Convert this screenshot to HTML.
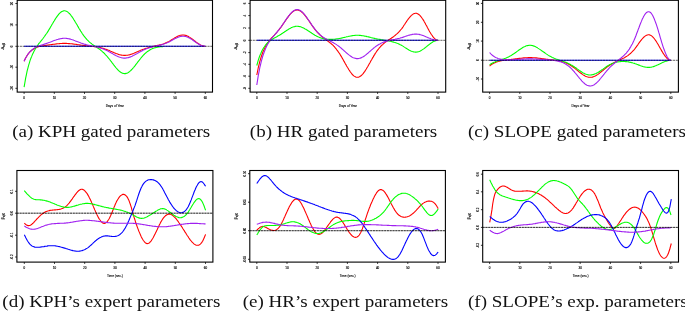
<!DOCTYPE html>
<html><head><meta charset="utf-8"><title>figure</title>
<style>html,body{margin:0;padding:0;background:#fff;}svg{display:block;}</style>
</head><body>
<svg width="685" height="311" viewBox="0 0 685 311">
<rect width="685" height="311" fill="#ffffff"/>
<path d="M24.1,61.3L24.9,59.6L25.6,58.1L26.4,56.7L27.1,55.5L27.9,54.4L28.6,53.4L29.4,52.5L30.1,51.7L30.9,51.0L31.7,50.3L32.4,49.7L33.2,49.2L33.9,48.7L34.7,48.3L35.4,47.9L36.2,47.5L36.9,47.2L37.7,47.0L38.4,46.7L39.2,46.5L40.0,46.3L40.7,46.2L41.5,46.0L42.2,45.9L43.0,45.8L43.7,45.7L44.5,45.6L45.2,45.5L46.0,45.4L46.8,45.3L47.5,45.1L48.3,45.0L49.0,44.9L49.8,44.8L50.5,44.7L51.3,44.6L52.0,44.5L52.8,44.4L53.5,44.3L54.3,44.2L55.1,44.1L55.8,44.0L56.6,43.9L57.3,43.8L58.1,43.7L58.8,43.7L59.6,43.6L60.3,43.5L61.1,43.5L61.9,43.5L62.6,43.4L63.4,43.4L64.1,43.4L64.9,43.4L65.6,43.4L66.4,43.4L67.1,43.5L67.9,43.5L68.6,43.6L69.4,43.6L70.2,43.7L70.9,43.8L71.7,43.8L72.4,43.9L73.2,44.0L73.9,44.1L74.7,44.2L75.4,44.3L76.2,44.4L77.0,44.5L77.7,44.7L78.5,44.8L79.2,44.9L80.0,45.0L80.7,45.1L81.5,45.2L82.2,45.3L83.0,45.4L83.7,45.5L84.5,45.6L85.3,45.6L86.0,45.7L86.8,45.8L87.5,45.9L88.3,46.0L89.0,46.0L89.8,46.1L90.5,46.2L91.3,46.3L92.1,46.4L92.8,46.4L93.6,46.5L94.3,46.6L95.1,46.7L95.8,46.8L96.6,46.9L97.3,47.1L98.1,47.2L98.8,47.3L99.6,47.5L100.4,47.6L101.1,47.8L101.9,48.0L102.6,48.2L103.4,48.4L104.1,48.7L104.9,48.9L105.6,49.2L106.4,49.4L107.2,49.7L107.9,50.0L108.7,50.3L109.4,50.6L110.2,51.0L110.9,51.3L111.7,51.6L112.4,52.0L113.2,52.3L113.9,52.6L114.7,52.9L115.5,53.2L116.2,53.5L117.0,53.8L117.7,54.1L118.5,54.4L119.2,54.6L120.0,54.8L120.7,55.0L121.5,55.1L122.2,55.2L123.0,55.3L123.8,55.4L124.5,55.4L125.3,55.4L126.0,55.3L126.8,55.3L127.5,55.2L128.3,55.0L129.0,54.9L129.8,54.7L130.6,54.4L131.3,54.2L132.1,53.9L132.8,53.7L133.6,53.4L134.3,53.1L135.1,52.7L135.8,52.4L136.6,52.1L137.3,51.7L138.1,51.4L138.9,51.1L139.6,50.7L140.4,50.4L141.1,50.1L141.9,49.8L142.6,49.5L143.4,49.2L144.1,49.0L144.9,48.7L145.7,48.4L146.4,48.2L147.2,48.0L147.9,47.8L148.7,47.5L149.4,47.4L150.2,47.2L150.9,47.0L151.7,46.8L152.4,46.6L153.2,46.4L154.0,46.3L154.7,46.1L155.5,45.9L156.2,45.8L157.0,45.6L157.7,45.4L158.5,45.3L159.2,45.1L160.0,44.9L160.8,44.7L161.5,44.5L162.3,44.2L163.0,44.0L163.8,43.7L164.5,43.4L165.3,43.1L166.0,42.8L166.8,42.5L167.5,42.1L168.3,41.8L169.1,41.4L169.8,41.0L170.6,40.5L171.3,40.0L172.1,39.5L172.8,39.1L173.6,38.6L174.3,38.1L175.1,37.7L175.9,37.3L176.6,36.8L177.4,36.5L178.1,36.1L178.9,35.8L179.6,35.6L180.4,35.3L181.1,35.2L181.9,35.1L182.7,35.0L183.4,35.0L184.2,35.1L184.9,35.2L185.7,35.4L186.4,35.6L187.2,35.9L187.9,36.2L188.7,36.6L189.4,37.1L190.2,37.6L191.0,38.1L191.7,38.6L192.5,39.2L193.2,39.8L194.0,40.4L194.7,40.9L195.5,41.5L196.2,42.1L197.0,42.7L197.8,43.2L198.5,43.7L199.3,44.2L200.0,44.7L200.8,45.1L201.5,45.4L202.3,45.7L203.0,45.9L203.8,46.1L204.5,46.2L205.3,46.3" fill="none" stroke="#ff0000" stroke-width="1.1" stroke-linejoin="round"/>
<path d="M24.1,87.1L24.9,82.5L25.6,78.3L26.4,74.6L27.1,71.2L27.9,68.1L28.6,65.3L29.4,62.8L30.1,60.4L30.9,58.3L31.7,56.4L32.4,54.6L33.2,52.9L33.9,51.4L34.7,50.0L35.4,48.7L36.2,47.5L36.9,46.3L37.7,45.3L38.4,44.2L39.2,43.2L40.0,42.3L40.7,41.3L41.5,40.4L42.2,39.5L43.0,38.5L43.7,37.5L44.5,36.5L45.2,35.4L46.0,34.3L46.8,33.2L47.5,32.1L48.3,30.9L49.0,29.6L49.8,28.4L50.5,27.1L51.3,25.8L52.0,24.5L52.8,23.2L53.5,21.9L54.3,20.7L55.1,19.4L55.8,18.3L56.6,17.1L57.3,16.1L58.1,15.1L58.8,14.2L59.6,13.3L60.3,12.6L61.1,12.0L61.9,11.5L62.6,11.2L63.4,10.9L64.1,10.8L64.9,10.8L65.6,11.0L66.4,11.2L67.1,11.6L67.9,12.1L68.6,12.8L69.4,13.5L70.2,14.3L70.9,15.3L71.7,16.3L72.4,17.4L73.2,18.5L73.9,19.7L74.7,20.9L75.4,22.2L76.2,23.5L77.0,24.8L77.7,26.1L78.5,27.4L79.2,28.7L80.0,29.9L80.7,31.1L81.5,32.3L82.2,33.5L83.0,34.6L83.7,35.6L84.5,36.6L85.3,37.6L86.0,38.5L86.8,39.3L87.5,40.1L88.3,40.9L89.0,41.6L89.8,42.3L90.5,42.9L91.3,43.5L92.1,44.1L92.8,44.6L93.6,45.2L94.3,45.7L95.1,46.2L95.8,46.7L96.6,47.2L97.3,47.7L98.1,48.2L98.8,48.8L99.6,49.3L100.4,49.9L101.1,50.5L101.9,51.1L102.6,51.8L103.4,52.5L104.1,53.2L104.9,54.0L105.6,54.8L106.4,55.6L107.2,56.5L107.9,57.4L108.7,58.3L109.4,59.3L110.2,60.2L110.9,61.2L111.7,62.2L112.4,63.2L113.2,64.2L113.9,65.2L114.7,66.2L115.5,67.1L116.2,68.0L117.0,68.9L117.7,69.7L118.5,70.5L119.2,71.1L120.0,71.8L120.7,72.3L121.5,72.7L122.2,73.1L123.0,73.4L123.8,73.5L124.5,73.6L125.3,73.6L126.0,73.4L126.8,73.2L127.5,72.9L128.3,72.5L129.0,72.0L129.8,71.4L130.6,70.7L131.3,70.0L132.1,69.2L132.8,68.4L133.6,67.5L134.3,66.6L135.1,65.6L135.8,64.6L136.6,63.7L137.3,62.7L138.1,61.7L138.9,60.7L139.6,59.7L140.4,58.8L141.1,57.8L141.9,56.9L142.6,56.1L143.4,55.2L144.1,54.5L144.9,53.7L145.7,53.0L146.4,52.4L147.2,51.7L147.9,51.2L148.7,50.7L149.4,50.2L150.2,49.7L150.9,49.3L151.7,49.0L152.4,48.6L153.2,48.3L154.0,48.1L154.7,47.8L155.5,47.6L156.2,47.4L157.0,47.3L157.7,47.1L158.5,47.0L159.2,46.9L160.0,46.8L160.8,46.7L161.5,46.7L162.3,46.6L163.0,46.6" fill="none" stroke="#00ff00" stroke-width="1.1" stroke-linejoin="round"/>
<path d="M24.1,46.3L24.9,46.3L25.6,46.3L26.4,46.3L27.1,46.3L27.9,46.3L28.6,46.3L29.4,46.3L30.1,46.3L30.9,46.3L31.7,46.3L32.4,46.3L33.2,46.3L33.9,46.3L34.7,46.3L35.4,46.3L36.2,46.3L36.9,46.3L37.7,46.3L38.4,46.3L39.2,46.3L40.0,46.3L40.7,46.3L41.5,46.3L42.2,46.3L43.0,46.3L43.7,46.3L44.5,46.3L45.2,46.3L46.0,46.3L46.8,46.3L47.5,46.3L48.3,46.3L49.0,46.3L49.8,46.3L50.5,46.3L51.3,46.3L52.0,46.3L52.8,46.3L53.5,46.3L54.3,46.3L55.1,46.3L55.8,46.3L56.6,46.3L57.3,46.3L58.1,46.3L58.8,46.3L59.6,46.3L60.3,46.3L61.1,46.3L61.9,46.3L62.6,46.3L63.4,46.3L64.1,46.3L64.9,46.3L65.6,46.3L66.4,46.3L67.1,46.3L67.9,46.3L68.6,46.3L69.4,46.3L70.2,46.3L70.9,46.3L71.7,46.3L72.4,46.3L73.2,46.3L73.9,46.3L74.7,46.3L75.4,46.3L76.2,46.3L77.0,46.3L77.7,46.3L78.5,46.3L79.2,46.3L80.0,46.3L80.7,46.3L81.5,46.3L82.2,46.3L83.0,46.3L83.7,46.3L84.5,46.3L85.3,46.3L86.0,46.3L86.8,46.3L87.5,46.3L88.3,46.3L89.0,46.3L89.8,46.3L90.5,46.3L91.3,46.3L92.1,46.3L92.8,46.3L93.6,46.3L94.3,46.3L95.1,46.3L95.8,46.3L96.6,46.3L97.3,46.3L98.1,46.3L98.8,46.3L99.6,46.3L100.4,46.3L101.1,46.3L101.9,46.3L102.6,46.3L103.4,46.3L104.1,46.3L104.9,46.3L105.6,46.3L106.4,46.3L107.2,46.3L107.9,46.3L108.7,46.3L109.4,46.3L110.2,46.3L110.9,46.3L111.7,46.3L112.4,46.3L113.2,46.3L113.9,46.3L114.7,46.3L115.5,46.3L116.2,46.3L117.0,46.3L117.7,46.3L118.5,46.3L119.2,46.3L120.0,46.3L120.7,46.3L121.5,46.3L122.2,46.3L123.0,46.3L123.8,46.3L124.5,46.3L125.3,46.3L126.0,46.3L126.8,46.3L127.5,46.3L128.3,46.3L129.0,46.3L129.8,46.3L130.6,46.3L131.3,46.3L132.1,46.3L132.8,46.3L133.6,46.3L134.3,46.3L135.1,46.3L135.8,46.3L136.6,46.3L137.3,46.3L138.1,46.3L138.9,46.3L139.6,46.3L140.4,46.3L141.1,46.3L141.9,46.3L142.6,46.3L143.4,46.3L144.1,46.3L144.9,46.3L145.7,46.3L146.4,46.3L147.2,46.3L147.9,46.3L148.7,46.3L149.4,46.3L150.2,46.3L150.9,46.3L151.7,46.3L152.4,46.3L153.2,46.3L154.0,46.3L154.7,46.3L155.5,46.3L156.2,46.3L157.0,46.3L157.7,46.3L158.5,46.3L159.2,46.3L160.0,46.3L160.8,46.3L161.5,46.3L162.3,46.3L163.0,46.3L163.8,46.3L164.5,46.3L165.3,46.3L166.0,46.3L166.8,46.3L167.5,46.3L168.3,46.3L169.1,46.3L169.8,46.3L170.6,46.3L171.3,46.3L172.1,46.3L172.8,46.3L173.6,46.3L174.3,46.3L175.1,46.3L175.9,46.3L176.6,46.3L177.4,46.3L178.1,46.3L178.9,46.3L179.6,46.3L180.4,46.3L181.1,46.3L181.9,46.3L182.7,46.3L183.4,46.3L184.2,46.3L184.9,46.3L185.7,46.3L186.4,46.3L187.2,46.3L187.9,46.3L188.7,46.3L189.4,46.3L190.2,46.3L191.0,46.3L191.7,46.3L192.5,46.3L193.2,46.3L194.0,46.3L194.7,46.3L195.5,46.3L196.2,46.3L197.0,46.3L197.8,46.3L198.5,46.3L199.3,46.3L200.0,46.3L200.8,46.3L201.5,46.3L202.3,46.3L203.0,46.3L203.8,46.3L204.5,46.3L205.3,46.3" fill="none" stroke="#0000ff" stroke-width="1.1" stroke-linejoin="round"/>
<path d="M24.1,61.3L24.9,59.6L25.6,58.0L26.4,56.7L27.1,55.5L27.9,54.3L28.6,53.3L29.4,52.4L30.1,51.6L30.9,50.8L31.7,50.1L32.4,49.5L33.2,48.9L33.9,48.4L34.7,47.9L35.4,47.5L36.2,47.1L36.9,46.8L37.7,46.4L38.4,46.1L39.2,45.8L40.0,45.6L40.7,45.3L41.5,45.1L42.2,44.8L43.0,44.6L43.7,44.4L44.5,44.1L45.2,43.9L46.0,43.6L46.8,43.4L47.5,43.1L48.3,42.8L49.0,42.5L49.8,42.3L50.5,42.0L51.3,41.7L52.0,41.4L52.8,41.1L53.5,40.8L54.3,40.5L55.1,40.2L55.8,40.0L56.6,39.7L57.3,39.5L58.1,39.3L58.8,39.1L59.6,38.9L60.3,38.7L61.1,38.6L61.9,38.5L62.6,38.4L63.4,38.3L64.1,38.3L64.9,38.3L65.6,38.3L66.4,38.4L67.1,38.5L67.9,38.6L68.6,38.7L69.4,38.9L70.2,39.1L70.9,39.3L71.7,39.5L72.4,39.8L73.2,40.0L73.9,40.3L74.7,40.6L75.4,40.9L76.2,41.2L77.0,41.5L77.7,41.8L78.5,42.0L79.2,42.3L80.0,42.6L80.7,42.9L81.5,43.2L82.2,43.4L83.0,43.7L83.7,43.9L84.5,44.2L85.3,44.4L86.0,44.6L86.8,44.8L87.5,45.0L88.3,45.2L89.0,45.3L89.8,45.5L90.5,45.7L91.3,45.8L92.1,46.0L92.8,46.2L93.6,46.3L94.3,46.5L95.1,46.6L95.8,46.8L96.6,47.0L97.3,47.1L98.1,47.3L98.8,47.5L99.6,47.7L100.4,48.0L101.1,48.2L101.9,48.5L102.6,48.7L103.4,49.0L104.1,49.3L104.9,49.7L105.6,50.0L106.4,50.3L107.2,50.7L107.9,51.1L108.7,51.5L109.4,51.9L110.2,52.3L110.9,52.8L111.7,53.2L112.4,53.6L113.2,54.1L113.9,54.5L114.7,54.9L115.5,55.3L116.2,55.7L117.0,56.1L117.7,56.4L118.5,56.7L119.2,57.0L120.0,57.3L120.7,57.5L121.5,57.7L122.2,57.9L123.0,58.0L123.8,58.1L124.5,58.1L125.3,58.1L126.0,58.0L126.8,57.9L127.5,57.8L128.3,57.6L129.0,57.4L129.8,57.1L130.6,56.9L131.3,56.6L132.1,56.2L132.8,55.8L133.6,55.5L134.3,55.1L135.1,54.6L135.8,54.2L136.6,53.8L137.3,53.4L138.1,52.9L138.9,52.5L139.6,52.1L140.4,51.7L141.1,51.3L141.9,50.9L142.6,50.5L143.4,50.1L144.1,49.8L144.9,49.4L145.7,49.1L146.4,48.8L147.2,48.5L147.9,48.3L148.7,48.0L149.4,47.8L150.2,47.5L150.9,47.3L151.7,47.1L152.4,46.9L153.2,46.7L154.0,46.5L154.7,46.3L155.5,46.1L156.2,46.0L157.0,45.8L157.7,45.6L158.5,45.5L159.2,45.3L160.0,45.1L160.8,44.9L161.5,44.7L162.3,44.5L163.0,44.3L163.8,44.0L164.5,43.8L165.3,43.5L166.0,43.2L166.8,42.9L167.5,42.6L168.3,42.3L169.1,41.9L169.8,41.5L170.6,41.1L171.3,40.7L172.1,40.3L172.8,39.8L173.6,39.4L174.3,39.0L175.1,38.6L175.9,38.2L176.6,37.9L177.4,37.5L178.1,37.2L178.9,36.9L179.6,36.7L180.4,36.5L181.1,36.4L181.9,36.3L182.7,36.2L183.4,36.2L184.2,36.3L184.9,36.4L185.7,36.5L186.4,36.7L187.2,37.0L187.9,37.3L188.7,37.7L189.4,38.1L190.2,38.5L191.0,38.9L191.7,39.4L192.5,39.9L193.2,40.5L194.0,41.0L194.7,41.5L195.5,42.0L196.2,42.6L197.0,43.1L197.8,43.6L198.5,44.0L199.3,44.4L200.0,44.8L200.8,45.2L201.5,45.5L202.3,45.8L203.0,46.0L203.8,46.1L204.5,46.2L205.3,46.3" fill="none" stroke="#a020f0" stroke-width="1.1" stroke-linejoin="round"/>
<line x1="17.2" y1="46.3" x2="212.5" y2="46.3" stroke="#000" stroke-opacity="0.15" stroke-width="0.9"/>
<line x1="17.2" y1="46.3" x2="212.5" y2="46.3" stroke="#000" stroke-opacity="0.6" stroke-width="0.9" stroke-dasharray="1.9,0.9"/>
<rect x="17.2" y="0.3" width="195.30" height="91.80" fill="none" stroke="#000" stroke-width="1.1"/>
<line x1="24.10" y1="92.1" x2="24.10" y2="93.89999999999999" stroke="#000" stroke-width="0.8"/>
<text x="24.10" y="99.00" font-size="3" text-anchor="middle" stroke="#000" stroke-width="0.12" font-family="Liberation Sans, Arial, sans-serif">0</text>
<line x1="54.30" y1="92.1" x2="54.30" y2="93.89999999999999" stroke="#000" stroke-width="0.8"/>
<text x="54.30" y="99.00" font-size="3" text-anchor="middle" stroke="#000" stroke-width="0.12" font-family="Liberation Sans, Arial, sans-serif">10</text>
<line x1="84.50" y1="92.1" x2="84.50" y2="93.89999999999999" stroke="#000" stroke-width="0.8"/>
<text x="84.50" y="99.00" font-size="3" text-anchor="middle" stroke="#000" stroke-width="0.12" font-family="Liberation Sans, Arial, sans-serif">20</text>
<line x1="114.70" y1="92.1" x2="114.70" y2="93.89999999999999" stroke="#000" stroke-width="0.8"/>
<text x="114.70" y="99.00" font-size="3" text-anchor="middle" stroke="#000" stroke-width="0.12" font-family="Liberation Sans, Arial, sans-serif">30</text>
<line x1="144.90" y1="92.1" x2="144.90" y2="93.89999999999999" stroke="#000" stroke-width="0.8"/>
<text x="144.90" y="99.00" font-size="3" text-anchor="middle" stroke="#000" stroke-width="0.12" font-family="Liberation Sans, Arial, sans-serif">40</text>
<line x1="175.10" y1="92.1" x2="175.10" y2="93.89999999999999" stroke="#000" stroke-width="0.8"/>
<text x="175.10" y="99.00" font-size="3" text-anchor="middle" stroke="#000" stroke-width="0.12" font-family="Liberation Sans, Arial, sans-serif">50</text>
<line x1="205.30" y1="92.1" x2="205.30" y2="93.89999999999999" stroke="#000" stroke-width="0.8"/>
<text x="205.30" y="99.00" font-size="3" text-anchor="middle" stroke="#000" stroke-width="0.12" font-family="Liberation Sans, Arial, sans-serif">60</text>
<line x1="15.399999999999999" y1="3.5" x2="17.2" y2="3.5" stroke="#000" stroke-width="0.8"/>
<text transform="translate(13.00,3.5) rotate(-90)" font-size="3" text-anchor="middle" stroke="#000" stroke-width="0.12" font-family="Liberation Sans, Arial, sans-serif">20</text>
<line x1="15.399999999999999" y1="24.9" x2="17.2" y2="24.9" stroke="#000" stroke-width="0.8"/>
<text transform="translate(13.00,24.9) rotate(-90)" font-size="3" text-anchor="middle" stroke="#000" stroke-width="0.12" font-family="Liberation Sans, Arial, sans-serif">10</text>
<line x1="15.399999999999999" y1="46.3" x2="17.2" y2="46.3" stroke="#000" stroke-width="0.8"/>
<text transform="translate(13.00,46.3) rotate(-90)" font-size="3" text-anchor="middle" stroke="#000" stroke-width="0.12" font-family="Liberation Sans, Arial, sans-serif">0</text>
<line x1="15.399999999999999" y1="67.2" x2="17.2" y2="67.2" stroke="#000" stroke-width="0.8"/>
<text transform="translate(13.00,67.2) rotate(-90)" font-size="3" text-anchor="middle" stroke="#000" stroke-width="0.12" font-family="Liberation Sans, Arial, sans-serif">-10</text>
<line x1="15.399999999999999" y1="88.3" x2="17.2" y2="88.3" stroke="#000" stroke-width="0.8"/>
<text transform="translate(13.00,88.3) rotate(-90)" font-size="3" text-anchor="middle" stroke="#000" stroke-width="0.12" font-family="Liberation Sans, Arial, sans-serif">-20</text>
<text x="114.85" y="106.50" font-size="3.2" text-anchor="middle" stroke="#000" stroke-width="0.1" font-family="Liberation Sans, Arial, sans-serif">Days of Year</text>
<text transform="translate(4.20,46.20) rotate(-90)" font-size="4.2" text-anchor="middle" stroke="#000" stroke-width="0.12" font-family="Liberation Sans, Arial, sans-serif">&#916;<tspan font-size='3' dy='0.8'>x|&#952;</tspan></text>
<path d="M256.8,75.0L257.6,71.1L258.3,67.5L259.1,64.3L259.8,61.5L260.6,58.9L261.3,56.5L262.1,54.3L262.8,52.3L263.6,50.5L264.4,48.9L265.1,47.3L265.9,45.9L266.6,44.6L267.4,43.4L268.1,42.3L268.9,41.3L269.6,40.3L270.4,39.4L271.1,38.5L271.9,37.7L272.7,36.9L273.4,36.1L274.2,35.3L274.9,34.5L275.7,33.6L276.4,32.8L277.2,31.9L277.9,31.0L278.7,30.1L279.4,29.1L280.2,28.1L281.0,27.1L281.7,26.1L282.5,25.0L283.2,23.9L284.0,22.8L284.7,21.7L285.5,20.6L286.2,19.5L287.0,18.4L287.8,17.4L288.5,16.4L289.3,15.4L290.0,14.5L290.8,13.6L291.5,12.9L292.3,12.2L293.0,11.6L293.8,11.0L294.6,10.6L295.3,10.3L296.1,10.1L296.8,10.0L297.6,10.0L298.3,10.1L299.1,10.4L299.8,10.7L300.6,11.1L301.3,11.7L302.1,12.3L302.9,13.0L303.6,13.8L304.4,14.7L305.1,15.6L305.9,16.6L306.6,17.6L307.4,18.7L308.1,19.7L308.9,20.8L309.7,21.9L310.4,23.1L311.2,24.2L311.9,25.3L312.7,26.3L313.4,27.4L314.2,28.4L314.9,29.4L315.7,30.3L316.4,31.3L317.2,32.1L318.0,33.0L318.7,33.7L319.5,34.5L320.2,35.2L321.0,35.9L321.7,36.5L322.5,37.2L323.2,37.8L324.0,38.3L324.8,38.9L325.5,39.4L326.3,40.0L327.0,40.5L327.8,41.1L328.5,41.6L329.3,42.2L330.0,42.8L330.8,43.4L331.5,44.0L332.3,44.7L333.1,45.4L333.8,46.2L334.6,47.0L335.3,47.9L336.1,48.8L336.8,49.8L337.6,50.8L338.3,51.9L339.1,53.0L339.9,54.1L340.6,55.4L341.4,56.6L342.1,57.9L342.9,59.2L343.6,60.6L344.4,61.9L345.1,63.3L345.9,64.6L346.6,66.0L347.4,67.3L348.2,68.5L348.9,69.8L349.7,70.9L350.4,72.0L351.2,73.0L351.9,74.0L352.7,74.8L353.4,75.5L354.2,76.1L355.0,76.6L355.7,77.0L356.5,77.2L357.2,77.3L358.0,77.3L358.7,77.1L359.5,76.8L360.2,76.3L361.0,75.8L361.7,75.1L362.5,74.3L363.3,73.4L364.0,72.4L364.8,71.4L365.5,70.2L366.3,69.0L367.0,67.8L367.8,66.5L368.5,65.2L369.3,63.8L370.1,62.4L370.8,61.1L371.6,59.7L372.3,58.4L373.1,57.1L373.8,55.9L374.6,54.6L375.3,53.4L376.1,52.3L376.8,51.2L377.6,50.2L378.4,49.2L379.1,48.2L379.9,47.3L380.6,46.5L381.4,45.7L382.1,45.0L382.9,44.3L383.6,43.6L384.4,43.0L385.1,42.4L385.9,41.8L386.7,41.2L387.4,40.7L388.2,40.2L388.9,39.7L389.7,39.2L390.4,38.7L391.2,38.2L391.9,37.7L392.7,37.2L393.5,36.7L394.2,36.1L395.0,35.5L395.7,34.9L396.5,34.2L397.2,33.6L398.0,32.8L398.7,32.1L399.5,31.3L400.2,30.4L401.0,29.5L401.8,28.6L402.5,27.6L403.3,26.5L404.0,25.3L404.8,24.2L405.5,23.0L406.3,21.9L407.0,20.8L407.8,19.7L408.6,18.7L409.3,17.7L410.1,16.8L410.8,16.0L411.6,15.3L412.3,14.6L413.1,14.1L413.8,13.7L414.6,13.5L415.4,13.3L416.1,13.3L416.9,13.4L417.6,13.7L418.4,14.2L419.1,14.7L419.9,15.4L420.6,16.3L421.4,17.2L422.1,18.3L422.9,19.4L423.7,20.6L424.4,21.9L425.2,23.3L425.9,24.7L426.7,26.1L427.4,27.5L428.2,28.9L428.9,30.3L429.7,31.7L430.5,33.0L431.2,34.2L432.0,35.3L432.7,36.4L433.5,37.3L434.2,38.2L435.0,38.9L435.7,39.4L436.5,39.9L437.2,40.2L438.0,40.3" fill="none" stroke="#ff0000" stroke-width="1.1" stroke-linejoin="round"/>
<path d="M256.8,65.5L257.6,62.7L258.3,60.1L259.1,57.8L259.8,55.7L260.6,53.9L261.3,52.2L262.1,50.6L262.8,49.2L263.6,47.9L264.4,46.8L265.1,45.7L265.9,44.7L266.6,43.8L267.4,43.0L268.1,42.3L268.9,41.6L269.6,41.0L270.4,40.5L271.1,39.9L271.9,39.5L272.7,39.0L273.4,38.6L274.2,38.1L274.9,37.7L275.7,37.3L276.4,36.9L277.2,36.5L277.9,36.0L278.7,35.6L279.4,35.2L280.2,34.7L281.0,34.2L281.7,33.7L282.5,33.2L283.2,32.7L284.0,32.2L284.7,31.7L285.5,31.2L286.2,30.7L287.0,30.2L287.8,29.7L288.5,29.2L289.3,28.8L290.0,28.4L290.8,28.0L291.5,27.6L292.3,27.3L293.0,27.0L293.8,26.8L294.6,26.6L295.3,26.4L296.1,26.3L296.8,26.3L297.6,26.3L298.3,26.4L299.1,26.5L299.8,26.6L300.6,26.8L301.3,27.1L302.1,27.4L302.9,27.7L303.6,28.1L304.4,28.5L305.1,28.9L305.9,29.3L306.6,29.8L307.4,30.3L308.1,30.8L308.9,31.3L309.7,31.8L310.4,32.3L311.2,32.8L311.9,33.3L312.7,33.8L313.4,34.3L314.2,34.7L314.9,35.2L315.7,35.6L316.4,36.0L317.2,36.4L318.0,36.8L318.7,37.1L319.5,37.4L320.2,37.7L321.0,37.9L321.7,38.2L322.5,38.4L323.2,38.6L324.0,38.8L324.8,38.9L325.5,39.0L326.3,39.1L327.0,39.2L327.8,39.3L328.5,39.3L329.3,39.4L330.0,39.4L330.8,39.4L331.5,39.4L332.3,39.4L333.1,39.3L333.8,39.3L334.6,39.2L335.3,39.1L336.1,39.0L336.8,38.9L337.6,38.8L338.3,38.7L339.1,38.5L339.9,38.4L340.6,38.2L341.4,38.1L342.1,37.9L342.9,37.7L343.6,37.5L344.4,37.4L345.1,37.2L345.9,37.0L346.6,36.8L347.4,36.7L348.2,36.5L348.9,36.3L349.7,36.2L350.4,36.0L351.2,35.9L351.9,35.7L352.7,35.6L353.4,35.5L354.2,35.5L355.0,35.4L355.7,35.3L356.5,35.3L357.2,35.3L358.0,35.3L358.7,35.3L359.5,35.4L360.2,35.4L361.0,35.5L361.7,35.6L362.5,35.7L363.3,35.8L364.0,36.0L364.8,36.1L365.5,36.3L366.3,36.4L367.0,36.6L367.8,36.8L368.5,36.9L369.3,37.1L370.1,37.3L370.8,37.5L371.6,37.7L372.3,37.9L373.1,38.0L373.8,38.2L374.6,38.4L375.3,38.6L376.1,38.7L376.8,38.9L377.6,39.0L378.4,39.2L379.1,39.3L379.9,39.4L380.6,39.6L381.4,39.7L382.1,39.8L382.9,40.0L383.6,40.1L384.4,40.2L385.1,40.4L385.9,40.5L386.7,40.6L387.4,40.8L388.2,40.9L388.9,41.0L389.7,41.2L390.4,41.3L391.2,41.5L391.9,41.7L392.7,41.9L393.5,42.1L394.2,42.3L395.0,42.5L395.7,42.8L396.5,43.0L397.2,43.3L398.0,43.6L398.7,43.9L399.5,44.3L400.2,44.7L401.0,45.0L401.8,45.4L402.5,45.9L403.3,46.4L404.0,46.9L404.8,47.4L405.5,47.9L406.3,48.3L407.0,48.8L407.8,49.3L408.6,49.7L409.3,50.2L410.1,50.6L410.8,50.9L411.6,51.2L412.3,51.5L413.1,51.7L413.8,51.9L414.6,52.0L415.4,52.1L416.1,52.1L416.9,52.0L417.6,51.9L418.4,51.7L419.1,51.5L419.9,51.2L420.6,50.8L421.4,50.4L422.1,49.9L422.9,49.4L423.7,48.9L424.4,48.3L425.2,47.7L425.9,47.1L426.7,46.5L427.4,45.9L428.2,45.3L428.9,44.7L429.7,44.1L430.5,43.5L431.2,43.0L432.0,42.5L432.7,42.0L433.5,41.6L434.2,41.2L435.0,40.9L435.7,40.7L436.5,40.5L437.2,40.4L438.0,40.3" fill="none" stroke="#00ff00" stroke-width="1.1" stroke-linejoin="round"/>
<path d="M256.8,40.3L257.6,40.3L258.3,40.3L259.1,40.3L259.8,40.3L260.6,40.3L261.3,40.3L262.1,40.3L262.8,40.3L263.6,40.3L264.4,40.3L265.1,40.3L265.9,40.3L266.6,40.3L267.4,40.3L268.1,40.3L268.9,40.3L269.6,40.3L270.4,40.3L271.1,40.3L271.9,40.3L272.7,40.3L273.4,40.3L274.2,40.3L274.9,40.3L275.7,40.3L276.4,40.3L277.2,40.3L277.9,40.3L278.7,40.3L279.4,40.3L280.2,40.3L281.0,40.3L281.7,40.3L282.5,40.3L283.2,40.3L284.0,40.3L284.7,40.3L285.5,40.3L286.2,40.3L287.0,40.3L287.8,40.3L288.5,40.3L289.3,40.3L290.0,40.3L290.8,40.3L291.5,40.3L292.3,40.3L293.0,40.3L293.8,40.3L294.6,40.3L295.3,40.3L296.1,40.3L296.8,40.3L297.6,40.3L298.3,40.3L299.1,40.3L299.8,40.3L300.6,40.3L301.3,40.3L302.1,40.3L302.9,40.3L303.6,40.3L304.4,40.3L305.1,40.3L305.9,40.3L306.6,40.3L307.4,40.3L308.1,40.3L308.9,40.3L309.7,40.3L310.4,40.3L311.2,40.3L311.9,40.3L312.7,40.3L313.4,40.3L314.2,40.3L314.9,40.3L315.7,40.3L316.4,40.3L317.2,40.3L318.0,40.3L318.7,40.3L319.5,40.3L320.2,40.3L321.0,40.3L321.7,40.3L322.5,40.3L323.2,40.3L324.0,40.3L324.8,40.3L325.5,40.3L326.3,40.3L327.0,40.3L327.8,40.3L328.5,40.3L329.3,40.3L330.0,40.3L330.8,40.3L331.5,40.3L332.3,40.3L333.1,40.3L333.8,40.3L334.6,40.3L335.3,40.3L336.1,40.3L336.8,40.3L337.6,40.3L338.3,40.3L339.1,40.3L339.9,40.3L340.6,40.3L341.4,40.3L342.1,40.3L342.9,40.3L343.6,40.3L344.4,40.3L345.1,40.3L345.9,40.3L346.6,40.3L347.4,40.3L348.2,40.3L348.9,40.3L349.7,40.3L350.4,40.3L351.2,40.3L351.9,40.3L352.7,40.3L353.4,40.3L354.2,40.3L355.0,40.3L355.7,40.3L356.5,40.3L357.2,40.3L358.0,40.3L358.7,40.3L359.5,40.3L360.2,40.3L361.0,40.3L361.7,40.3L362.5,40.3L363.3,40.3L364.0,40.3L364.8,40.3L365.5,40.3L366.3,40.3L367.0,40.3L367.8,40.3L368.5,40.3L369.3,40.3L370.1,40.3L370.8,40.3L371.6,40.3L372.3,40.3L373.1,40.3L373.8,40.3L374.6,40.3L375.3,40.3L376.1,40.3L376.8,40.3L377.6,40.3L378.4,40.3L379.1,40.3L379.9,40.3L380.6,40.3L381.4,40.3L382.1,40.3L382.9,40.3L383.6,40.3L384.4,40.3L385.1,40.3L385.9,40.3L386.7,40.3L387.4,40.3L388.2,40.3L388.9,40.3L389.7,40.3L390.4,40.3L391.2,40.3L391.9,40.3L392.7,40.3L393.5,40.3L394.2,40.3L395.0,40.3L395.7,40.3L396.5,40.3L397.2,40.3L398.0,40.3L398.7,40.3L399.5,40.3L400.2,40.3L401.0,40.3L401.8,40.3L402.5,40.3L403.3,40.3L404.0,40.3L404.8,40.3L405.5,40.3L406.3,40.3L407.0,40.3L407.8,40.3L408.6,40.3L409.3,40.3L410.1,40.3L410.8,40.3L411.6,40.3L412.3,40.3L413.1,40.3L413.8,40.3L414.6,40.3L415.4,40.3L416.1,40.3L416.9,40.3L417.6,40.3L418.4,40.3L419.1,40.3L419.9,40.3L420.6,40.3L421.4,40.3L422.1,40.3L422.9,40.3L423.7,40.3L424.4,40.3L425.2,40.3L425.9,40.3L426.7,40.3L427.4,40.3L428.2,40.3L428.9,40.3L429.7,40.3L430.5,40.3L431.2,40.3L432.0,40.3L432.7,40.3L433.5,40.3L434.2,40.3L435.0,40.3L435.7,40.3L436.5,40.3L437.2,40.3L438.0,40.3" fill="none" stroke="#0000ff" stroke-width="1.1" stroke-linejoin="round"/>
<path d="M256.8,85.0L257.6,79.9L258.3,75.4L259.1,71.3L259.8,67.6L260.6,64.3L261.3,61.3L262.1,58.5L262.8,56.0L263.6,53.7L264.4,51.6L265.1,49.7L265.9,47.9L266.6,46.3L267.4,44.8L268.1,43.5L268.9,42.2L269.6,41.1L270.4,40.0L271.1,39.0L271.9,38.0L272.7,37.1L273.4,36.2L274.2,35.4L274.9,34.5L275.7,33.6L276.4,32.8L277.2,31.9L277.9,30.9L278.7,30.0L279.4,29.0L280.2,28.0L281.0,27.0L281.7,25.9L282.5,24.8L283.2,23.7L284.0,22.6L284.7,21.5L285.5,20.3L286.2,19.2L287.0,18.1L287.8,17.1L288.5,16.0L289.3,15.1L290.0,14.1L290.8,13.3L291.5,12.5L292.3,11.8L293.0,11.2L293.8,10.7L294.6,10.2L295.3,9.9L296.1,9.7L296.8,9.6L297.6,9.6L298.3,9.7L299.1,10.0L299.8,10.3L300.6,10.8L301.3,11.3L302.1,11.9L302.9,12.7L303.6,13.5L304.4,14.3L305.1,15.3L305.9,16.3L306.6,17.3L307.4,18.4L308.1,19.5L308.9,20.6L309.7,21.7L310.4,22.8L311.2,23.9L311.9,25.0L312.7,26.1L313.4,27.2L314.2,28.2L314.9,29.2L315.7,30.1L316.4,31.0L317.2,31.9L318.0,32.7L318.7,33.5L319.5,34.2L320.2,34.9L321.0,35.6L321.7,36.2L322.5,36.7L323.2,37.3L324.0,37.7L324.8,38.2L325.5,38.7L326.3,39.1L327.0,39.5L327.8,39.9L328.5,40.3L329.3,40.6L330.0,41.0L330.8,41.4L331.5,41.8L332.3,42.2L333.1,42.6L333.8,43.0L334.6,43.4L335.3,43.9L336.1,44.4L336.8,44.9L337.6,45.4L338.3,45.9L339.1,46.5L339.9,47.1L340.6,47.7L341.4,48.3L342.1,49.0L342.9,49.6L343.6,50.3L344.4,51.0L345.1,51.6L345.9,52.3L346.6,53.0L347.4,53.6L348.2,54.3L348.9,54.9L349.7,55.4L350.4,56.0L351.2,56.5L351.9,57.0L352.7,57.4L353.4,57.7L354.2,58.0L355.0,58.3L355.7,58.4L356.5,58.6L357.2,58.6L358.0,58.6L358.7,58.5L359.5,58.3L360.2,58.1L361.0,57.9L361.7,57.5L362.5,57.1L363.3,56.7L364.0,56.2L364.8,55.7L365.5,55.1L366.3,54.5L367.0,53.9L367.8,53.3L368.5,52.6L369.3,51.9L370.1,51.3L370.8,50.6L371.6,49.9L372.3,49.3L373.1,48.6L373.8,48.0L374.6,47.4L375.3,46.8L376.1,46.3L376.8,45.7L377.6,45.2L378.4,44.7L379.1,44.3L379.9,43.9L380.6,43.5L381.4,43.1L382.1,42.8L382.9,42.4L383.6,42.1L384.4,41.9L385.1,41.6L385.9,41.4L386.7,41.1L387.4,40.9L388.2,40.7L388.9,40.6L389.7,40.4L390.4,40.2L391.2,40.1L391.9,39.9L392.7,39.8L393.5,39.6L394.2,39.5L395.0,39.3L395.7,39.1L396.5,39.0L397.2,38.8L398.0,38.6L398.7,38.5L399.5,38.3L400.2,38.1L401.0,37.8L401.8,37.6L402.5,37.4L403.3,37.1L404.0,36.9L404.8,36.6L405.5,36.3L406.3,36.1L407.0,35.8L407.8,35.6L408.6,35.3L409.3,35.1L410.1,34.9L410.8,34.7L411.6,34.6L412.3,34.4L413.1,34.3L413.8,34.2L414.6,34.1L415.4,34.1L416.1,34.1L416.9,34.1L417.6,34.2L418.4,34.3L419.1,34.4L419.9,34.6L420.6,34.8L421.4,35.0L422.1,35.2L422.9,35.5L423.7,35.8L424.4,36.1L425.2,36.4L425.9,36.7L426.7,37.0L427.4,37.4L428.2,37.7L428.9,38.0L429.7,38.3L430.5,38.6L431.2,38.9L432.0,39.2L432.7,39.4L433.5,39.6L434.2,39.8L435.0,40.0L435.7,40.1L436.5,40.2L437.2,40.3L438.0,40.3" fill="none" stroke="#a020f0" stroke-width="1.1" stroke-linejoin="round"/>
<line x1="250.1" y1="40.3" x2="445.7" y2="40.3" stroke="#000" stroke-opacity="0.15" stroke-width="0.9"/>
<line x1="250.1" y1="40.3" x2="445.7" y2="40.3" stroke="#000" stroke-opacity="0.6" stroke-width="0.9" stroke-dasharray="1.9,0.9"/>
<rect x="250.1" y="0.3" width="195.60" height="91.80" fill="none" stroke="#000" stroke-width="1.1"/>
<line x1="256.80" y1="92.1" x2="256.80" y2="93.89999999999999" stroke="#000" stroke-width="0.8"/>
<text x="256.80" y="99.00" font-size="3" text-anchor="middle" stroke="#000" stroke-width="0.12" font-family="Liberation Sans, Arial, sans-serif">0</text>
<line x1="287.00" y1="92.1" x2="287.00" y2="93.89999999999999" stroke="#000" stroke-width="0.8"/>
<text x="287.00" y="99.00" font-size="3" text-anchor="middle" stroke="#000" stroke-width="0.12" font-family="Liberation Sans, Arial, sans-serif">10</text>
<line x1="317.20" y1="92.1" x2="317.20" y2="93.89999999999999" stroke="#000" stroke-width="0.8"/>
<text x="317.20" y="99.00" font-size="3" text-anchor="middle" stroke="#000" stroke-width="0.12" font-family="Liberation Sans, Arial, sans-serif">20</text>
<line x1="347.40" y1="92.1" x2="347.40" y2="93.89999999999999" stroke="#000" stroke-width="0.8"/>
<text x="347.40" y="99.00" font-size="3" text-anchor="middle" stroke="#000" stroke-width="0.12" font-family="Liberation Sans, Arial, sans-serif">30</text>
<line x1="377.60" y1="92.1" x2="377.60" y2="93.89999999999999" stroke="#000" stroke-width="0.8"/>
<text x="377.60" y="99.00" font-size="3" text-anchor="middle" stroke="#000" stroke-width="0.12" font-family="Liberation Sans, Arial, sans-serif">40</text>
<line x1="407.80" y1="92.1" x2="407.80" y2="93.89999999999999" stroke="#000" stroke-width="0.8"/>
<text x="407.80" y="99.00" font-size="3" text-anchor="middle" stroke="#000" stroke-width="0.12" font-family="Liberation Sans, Arial, sans-serif">50</text>
<line x1="438.00" y1="92.1" x2="438.00" y2="93.89999999999999" stroke="#000" stroke-width="0.8"/>
<text x="438.00" y="99.00" font-size="3" text-anchor="middle" stroke="#000" stroke-width="0.12" font-family="Liberation Sans, Arial, sans-serif">60</text>
<line x1="248.29999999999998" y1="3.4" x2="250.1" y2="3.4" stroke="#000" stroke-width="0.8"/>
<text transform="translate(245.90,3.4) rotate(-90)" font-size="3" text-anchor="middle" stroke="#000" stroke-width="0.12" font-family="Liberation Sans, Arial, sans-serif">6</text>
<line x1="248.29999999999998" y1="15.6" x2="250.1" y2="15.6" stroke="#000" stroke-width="0.8"/>
<text transform="translate(245.90,15.6) rotate(-90)" font-size="3" text-anchor="middle" stroke="#000" stroke-width="0.12" font-family="Liberation Sans, Arial, sans-serif">4</text>
<line x1="248.29999999999998" y1="28" x2="250.1" y2="28" stroke="#000" stroke-width="0.8"/>
<text transform="translate(245.90,28) rotate(-90)" font-size="3" text-anchor="middle" stroke="#000" stroke-width="0.12" font-family="Liberation Sans, Arial, sans-serif">2</text>
<line x1="248.29999999999998" y1="40.3" x2="250.1" y2="40.3" stroke="#000" stroke-width="0.8"/>
<text transform="translate(245.90,40.3) rotate(-90)" font-size="3" text-anchor="middle" stroke="#000" stroke-width="0.12" font-family="Liberation Sans, Arial, sans-serif">0</text>
<line x1="248.29999999999998" y1="52.6" x2="250.1" y2="52.6" stroke="#000" stroke-width="0.8"/>
<text transform="translate(245.90,52.6) rotate(-90)" font-size="3" text-anchor="middle" stroke="#000" stroke-width="0.12" font-family="Liberation Sans, Arial, sans-serif">-2</text>
<line x1="248.29999999999998" y1="64.3" x2="250.1" y2="64.3" stroke="#000" stroke-width="0.8"/>
<text transform="translate(245.90,64.3) rotate(-90)" font-size="3" text-anchor="middle" stroke="#000" stroke-width="0.12" font-family="Liberation Sans, Arial, sans-serif">-4</text>
<line x1="248.29999999999998" y1="76.2" x2="250.1" y2="76.2" stroke="#000" stroke-width="0.8"/>
<text transform="translate(245.90,76.2) rotate(-90)" font-size="3" text-anchor="middle" stroke="#000" stroke-width="0.12" font-family="Liberation Sans, Arial, sans-serif">-6</text>
<line x1="248.29999999999998" y1="88.3" x2="250.1" y2="88.3" stroke="#000" stroke-width="0.8"/>
<text transform="translate(245.90,88.3) rotate(-90)" font-size="3" text-anchor="middle" stroke="#000" stroke-width="0.12" font-family="Liberation Sans, Arial, sans-serif">-8</text>
<text x="347.90" y="106.50" font-size="3.2" text-anchor="middle" stroke="#000" stroke-width="0.1" font-family="Liberation Sans, Arial, sans-serif">Days of Year</text>
<text transform="translate(237.10,46.20) rotate(-90)" font-size="4.2" text-anchor="middle" stroke="#000" stroke-width="0.12" font-family="Liberation Sans, Arial, sans-serif">&#916;<tspan font-size='3' dy='0.8'>x|&#952;</tspan></text>
<path d="M489.6,66.1L490.4,65.4L491.1,64.8L491.9,64.3L492.6,63.8L493.4,63.4L494.1,63.0L494.9,62.7L495.6,62.4L496.4,62.1L497.2,61.8L497.9,61.6L498.7,61.3L499.4,61.1L500.2,61.0L500.9,60.8L501.7,60.6L502.4,60.5L503.2,60.4L503.9,60.3L504.7,60.2L505.5,60.1L506.2,60.0L507.0,59.9L507.7,59.8L508.5,59.7L509.2,59.7L510.0,59.6L510.7,59.5L511.5,59.4L512.2,59.3L513.0,59.2L513.8,59.1L514.5,59.0L515.3,58.9L516.0,58.8L516.8,58.7L517.5,58.6L518.3,58.5L519.0,58.4L519.8,58.4L520.6,58.3L521.3,58.2L522.1,58.1L522.8,58.0L523.6,57.9L524.3,57.9L525.1,57.8L525.8,57.7L526.6,57.7L527.4,57.7L528.1,57.6L528.9,57.6L529.6,57.6L530.4,57.6L531.1,57.6L531.9,57.6L532.6,57.7L533.4,57.7L534.1,57.8L534.9,57.8L535.7,57.9L536.4,57.9L537.2,58.0L537.9,58.1L538.7,58.2L539.4,58.3L540.2,58.4L540.9,58.5L541.7,58.6L542.5,58.7L543.2,58.8L544.0,58.9L544.7,59.0L545.5,59.1L546.2,59.2L547.0,59.3L547.7,59.4L548.5,59.5L549.2,59.6L550.0,59.7L550.8,59.7L551.5,59.8L552.3,59.9L553.0,60.0L553.8,60.1L554.5,60.2L555.3,60.3L556.0,60.4L556.8,60.5L557.6,60.6L558.3,60.8L559.1,60.9L559.8,61.0L560.6,61.2L561.3,61.4L562.1,61.6L562.8,61.8L563.6,62.0L564.3,62.3L565.1,62.5L565.9,62.8L566.6,63.2L567.4,63.5L568.1,63.9L568.9,64.3L569.6,64.7L570.4,65.2L571.1,65.7L571.9,66.2L572.6,66.7L573.4,67.2L574.2,67.8L574.9,68.4L575.7,69.0L576.4,69.6L577.2,70.2L577.9,70.9L578.7,71.5L579.4,72.1L580.2,72.7L581.0,73.3L581.7,73.8L582.5,74.4L583.2,74.9L584.0,75.3L584.7,75.8L585.5,76.2L586.2,76.5L587.0,76.8L587.8,77.0L588.5,77.2L589.3,77.3L590.0,77.3L590.8,77.3L591.5,77.2L592.3,77.1L593.0,76.9L593.8,76.6L594.5,76.3L595.3,75.9L596.1,75.5L596.8,75.1L597.6,74.6L598.3,74.1L599.1,73.5L599.8,72.9L600.6,72.3L601.3,71.7L602.1,71.1L602.9,70.5L603.6,69.8L604.4,69.2L605.1,68.6L605.9,68.0L606.6,67.4L607.4,66.8L608.1,66.3L608.9,65.7L609.6,65.2L610.4,64.7L611.2,64.3L611.9,63.8L612.7,63.4L613.4,63.0L614.2,62.6L614.9,62.2L615.7,61.8L616.4,61.4L617.2,61.1L618.0,60.7L618.7,60.3L619.5,60.0L620.2,59.6L621.0,59.3L621.7,58.9L622.5,58.6L623.2,58.2L624.0,57.9L624.7,57.5L625.5,57.0L626.3,56.6L627.0,56.1L627.8,55.6L628.5,55.0L629.3,54.4L630.0,53.8L630.8,53.2L631.5,52.4L632.3,51.7L633.0,50.9L633.8,50.1L634.6,49.2L635.3,48.2L636.1,47.2L636.8,46.1L637.6,45.1L638.3,44.0L639.1,42.9L639.8,41.9L640.6,40.9L641.4,39.9L642.1,39.0L642.9,38.1L643.6,37.3L644.4,36.7L645.1,36.1L645.9,35.6L646.6,35.2L647.4,35.0L648.2,34.8L648.9,34.8L649.7,34.9L650.4,35.2L651.2,35.6L651.9,36.1L652.7,36.8L653.4,37.6L654.2,38.5L654.9,39.5L655.7,40.6L656.5,41.7L657.2,43.0L658.0,44.2L658.7,45.5L659.5,46.9L660.2,48.2L661.0,49.6L661.7,50.9L662.5,52.1L663.2,53.4L664.0,54.5L664.8,55.6L665.5,56.6L666.3,57.5L667.0,58.3L667.8,59.0L668.5,59.5L669.3,59.9L670.0,60.2L670.8,60.3" fill="none" stroke="#ff0000" stroke-width="1.1" stroke-linejoin="round"/>
<path d="M489.6,64.7L490.4,64.2L491.1,63.7L491.9,63.3L492.6,62.9L493.4,62.5L494.1,62.2L494.9,61.9L495.6,61.6L496.4,61.3L497.2,61.0L497.9,60.8L498.7,60.5L499.4,60.3L500.2,60.0L500.9,59.8L501.7,59.6L502.4,59.3L503.2,59.0L503.9,58.8L504.7,58.5L505.5,58.2L506.2,57.9L507.0,57.6L507.7,57.2L508.5,56.9L509.2,56.5L510.0,56.1L510.7,55.7L511.5,55.2L512.2,54.8L513.0,54.3L513.8,53.8L514.5,53.3L515.3,52.7L516.0,52.2L516.8,51.6L517.5,51.1L518.3,50.5L519.0,50.0L519.8,49.5L520.6,49.0L521.3,48.5L522.1,48.0L522.8,47.5L523.6,47.1L524.3,46.7L525.1,46.4L525.8,46.1L526.6,45.8L527.4,45.6L528.1,45.5L528.9,45.4L529.6,45.3L530.4,45.3L531.1,45.4L531.9,45.5L532.6,45.6L533.4,45.9L534.1,46.1L534.9,46.4L535.7,46.8L536.4,47.2L537.2,47.6L537.9,48.1L538.7,48.6L539.4,49.1L540.2,49.6L540.9,50.1L541.7,50.7L542.5,51.2L543.2,51.8L544.0,52.3L544.7,52.8L545.5,53.4L546.2,53.9L547.0,54.4L547.7,54.9L548.5,55.4L549.2,55.8L550.0,56.2L550.8,56.6L551.5,57.0L552.3,57.4L553.0,57.7L553.8,58.1L554.5,58.4L555.3,58.7L556.0,59.0L556.8,59.2L557.6,59.5L558.3,59.7L559.1,60.0L559.8,60.2L560.6,60.5L561.3,60.7L562.1,60.9L562.8,61.2L563.6,61.4L564.3,61.7L565.1,62.0L565.9,62.3L566.6,62.6L567.4,62.9L568.1,63.3L568.9,63.7L569.6,64.0L570.4,64.4L571.1,64.9L571.9,65.3L572.6,65.8L573.4,66.3L574.2,66.8L574.9,67.3L575.7,67.8L576.4,68.3L577.2,68.9L577.9,69.4L578.7,70.0L579.4,70.5L580.2,71.0L581.0,71.5L581.7,72.0L582.5,72.5L583.2,72.9L584.0,73.3L584.7,73.7L585.5,74.0L586.2,74.3L587.0,74.5L587.8,74.7L588.5,74.9L589.3,75.0L590.0,75.0L590.8,75.0L591.5,74.9L592.3,74.8L593.0,74.6L593.8,74.4L594.5,74.1L595.3,73.8L596.1,73.5L596.8,73.1L597.6,72.7L598.3,72.2L599.1,71.7L599.8,71.2L600.6,70.7L601.3,70.2L602.1,69.6L602.9,69.1L603.6,68.6L604.4,68.1L605.1,67.5L605.9,67.0L606.6,66.5L607.4,66.0L608.1,65.6L608.9,65.1L609.6,64.7L610.4,64.3L611.2,64.0L611.9,63.6L612.7,63.3L613.4,63.0L614.2,62.8L614.9,62.5L615.7,62.3L616.4,62.1L617.2,62.0L618.0,61.9L618.7,61.7L619.5,61.7L620.2,61.6L621.0,61.5L621.7,61.5L622.5,61.5L623.2,61.5L624.0,61.5L624.7,61.5L625.5,61.6L626.3,61.6L627.0,61.7L627.8,61.8L628.5,61.9L629.3,62.1L630.0,62.2L630.8,62.4L631.5,62.6L632.3,62.8L633.0,63.0L633.8,63.2L634.6,63.4L635.3,63.7L636.1,64.0L636.8,64.3L637.6,64.6L638.3,64.9L639.1,65.1L639.8,65.4L640.6,65.7L641.4,66.0L642.1,66.2L642.9,66.5L643.6,66.7L644.4,66.9L645.1,67.0L645.9,67.2L646.6,67.3L647.4,67.4L648.2,67.4L648.9,67.4L649.7,67.4L650.4,67.3L651.2,67.2L651.9,67.0L652.7,66.8L653.4,66.6L654.2,66.4L654.9,66.1L655.7,65.8L656.5,65.5L657.2,65.1L658.0,64.8L658.7,64.4L659.5,64.0L660.2,63.7L661.0,63.3L661.7,62.9L662.5,62.6L663.2,62.2L664.0,61.9L664.8,61.6L665.5,61.3L666.3,61.1L667.0,60.9L667.8,60.7L668.5,60.5L669.3,60.4L670.0,60.3L670.8,60.3" fill="none" stroke="#00ff00" stroke-width="1.1" stroke-linejoin="round"/>
<path d="M489.6,60.3L490.4,60.3L491.1,60.3L491.9,60.3L492.6,60.3L493.4,60.3L494.1,60.3L494.9,60.3L495.6,60.3L496.4,60.3L497.2,60.3L497.9,60.3L498.7,60.3L499.4,60.3L500.2,60.3L500.9,60.3L501.7,60.3L502.4,60.3L503.2,60.3L503.9,60.3L504.7,60.3L505.5,60.3L506.2,60.3L507.0,60.3L507.7,60.3L508.5,60.3L509.2,60.3L510.0,60.3L510.7,60.3L511.5,60.3L512.2,60.3L513.0,60.3L513.8,60.3L514.5,60.3L515.3,60.3L516.0,60.3L516.8,60.3L517.5,60.3L518.3,60.3L519.0,60.3L519.8,60.3L520.6,60.3L521.3,60.3L522.1,60.3L522.8,60.3L523.6,60.3L524.3,60.3L525.1,60.3L525.8,60.3L526.6,60.3L527.4,60.3L528.1,60.3L528.9,60.3L529.6,60.3L530.4,60.3L531.1,60.3L531.9,60.3L532.6,60.3L533.4,60.3L534.1,60.3L534.9,60.3L535.7,60.3L536.4,60.3L537.2,60.3L537.9,60.3L538.7,60.3L539.4,60.3L540.2,60.3L540.9,60.3L541.7,60.3L542.5,60.3L543.2,60.3L544.0,60.3L544.7,60.3L545.5,60.3L546.2,60.3L547.0,60.3L547.7,60.3L548.5,60.3L549.2,60.3L550.0,60.3L550.8,60.3L551.5,60.3L552.3,60.3L553.0,60.3L553.8,60.3L554.5,60.3L555.3,60.3L556.0,60.3L556.8,60.3L557.6,60.3L558.3,60.3L559.1,60.3L559.8,60.3L560.6,60.3L561.3,60.3L562.1,60.3L562.8,60.3L563.6,60.3L564.3,60.3L565.1,60.3L565.9,60.3L566.6,60.3L567.4,60.3L568.1,60.3L568.9,60.3L569.6,60.3L570.4,60.3L571.1,60.3L571.9,60.3L572.6,60.3L573.4,60.3L574.2,60.3L574.9,60.3L575.7,60.3L576.4,60.3L577.2,60.3L577.9,60.3L578.7,60.3L579.4,60.3L580.2,60.3L581.0,60.3L581.7,60.3L582.5,60.3L583.2,60.3L584.0,60.3L584.7,60.3L585.5,60.3L586.2,60.3L587.0,60.3L587.8,60.3L588.5,60.3L589.3,60.3L590.0,60.3L590.8,60.3L591.5,60.3L592.3,60.3L593.0,60.3L593.8,60.3L594.5,60.3L595.3,60.3L596.1,60.3L596.8,60.3L597.6,60.3L598.3,60.3L599.1,60.3L599.8,60.3L600.6,60.3L601.3,60.3L602.1,60.3L602.9,60.3L603.6,60.3L604.4,60.3L605.1,60.3L605.9,60.3L606.6,60.3L607.4,60.3L608.1,60.3L608.9,60.3L609.6,60.3L610.4,60.3L611.2,60.3L611.9,60.3L612.7,60.3L613.4,60.3L614.2,60.3L614.9,60.3L615.7,60.3L616.4,60.3L617.2,60.3L618.0,60.3L618.7,60.3L619.5,60.3L620.2,60.3L621.0,60.3L621.7,60.3L622.5,60.3L623.2,60.3L624.0,60.3L624.7,60.3L625.5,60.3L626.3,60.3L627.0,60.3L627.8,60.3L628.5,60.3L629.3,60.3L630.0,60.3L630.8,60.3L631.5,60.3L632.3,60.3L633.0,60.3L633.8,60.3L634.6,60.3L635.3,60.3L636.1,60.3L636.8,60.3L637.6,60.3L638.3,60.3L639.1,60.3L639.8,60.3L640.6,60.3L641.4,60.3L642.1,60.3L642.9,60.3L643.6,60.3L644.4,60.3L645.1,60.3L645.9,60.3L646.6,60.3L647.4,60.3L648.2,60.3L648.9,60.3L649.7,60.3L650.4,60.3L651.2,60.3L651.9,60.3L652.7,60.3L653.4,60.3L654.2,60.3L654.9,60.3L655.7,60.3L656.5,60.3L657.2,60.3L658.0,60.3L658.7,60.3L659.5,60.3L660.2,60.3L661.0,60.3L661.7,60.3L662.5,60.3L663.2,60.3L664.0,60.3L664.8,60.3L665.5,60.3L666.3,60.3L667.0,60.3L667.8,60.3L668.5,60.3L669.3,60.3L670.0,60.3L670.8,60.3" fill="none" stroke="#0000ff" stroke-width="1.1" stroke-linejoin="round"/>
<path d="M489.6,52.5L490.4,53.4L491.1,54.1L491.9,54.8L492.6,55.5L493.4,56.0L494.1,56.5L494.9,57.0L495.6,57.4L496.4,57.8L497.2,58.1L497.9,58.4L498.7,58.7L499.4,58.9L500.2,59.1L500.9,59.3L501.7,59.4L502.4,59.6L503.2,59.7L503.9,59.7L504.7,59.8L505.5,59.8L506.2,59.9L507.0,59.9L507.7,59.9L508.5,59.9L509.2,59.9L510.0,59.9L510.7,59.8L511.5,59.8L512.2,59.8L513.0,59.7L513.8,59.7L514.5,59.6L515.3,59.6L516.0,59.5L516.8,59.5L517.5,59.4L518.3,59.4L519.0,59.3L519.8,59.3L520.6,59.2L521.3,59.2L522.1,59.1L522.8,59.1L523.6,59.1L524.3,59.0L525.1,59.0L525.8,59.0L526.6,58.9L527.4,58.9L528.1,58.9L528.9,58.9L529.6,58.9L530.4,58.9L531.1,58.9L531.9,58.9L532.6,58.9L533.4,59.0L534.1,59.0L534.9,59.0L535.7,59.0L536.4,59.1L537.2,59.1L537.9,59.2L538.7,59.2L539.4,59.3L540.2,59.3L540.9,59.4L541.7,59.4L542.5,59.5L543.2,59.5L544.0,59.6L544.7,59.6L545.5,59.7L546.2,59.8L547.0,59.8L547.7,59.9L548.5,59.9L549.2,60.0L550.0,60.1L550.8,60.1L551.5,60.2L552.3,60.3L553.0,60.4L553.8,60.5L554.5,60.5L555.3,60.7L556.0,60.8L556.8,60.9L557.6,61.0L558.3,61.2L559.1,61.4L559.8,61.6L560.6,61.8L561.3,62.1L562.1,62.3L562.8,62.6L563.6,63.0L564.3,63.3L565.1,63.8L565.9,64.2L566.6,64.7L567.4,65.2L568.1,65.8L568.9,66.4L569.6,67.0L570.4,67.7L571.1,68.4L571.9,69.2L572.6,70.0L573.4,70.8L574.2,71.7L574.9,72.6L575.7,73.5L576.4,74.4L577.2,75.3L577.9,76.3L578.7,77.2L579.4,78.1L580.2,79.0L581.0,79.9L581.7,80.8L582.5,81.6L583.2,82.3L584.0,83.0L584.7,83.7L585.5,84.3L586.2,84.8L587.0,85.2L587.8,85.5L588.5,85.8L589.3,85.9L590.0,86.0L590.8,86.0L591.5,85.8L592.3,85.6L593.0,85.3L593.8,84.9L594.5,84.5L595.3,83.9L596.1,83.3L596.8,82.6L597.6,81.9L598.3,81.1L599.1,80.3L599.8,79.4L600.6,78.5L601.3,77.5L602.1,76.6L602.9,75.7L603.6,74.7L604.4,73.8L605.1,72.8L605.9,71.9L606.6,71.0L607.4,70.2L608.1,69.3L608.9,68.5L609.6,67.7L610.4,66.9L611.2,66.2L611.9,65.5L612.7,64.8L613.4,64.2L614.2,63.5L614.9,62.9L615.7,62.3L616.4,61.7L617.2,61.1L618.0,60.5L618.7,59.9L619.5,59.2L620.2,58.6L621.0,58.0L621.7,57.4L622.5,56.8L623.2,56.2L624.0,55.5L624.7,54.7L625.5,53.9L626.3,53.1L627.0,52.2L627.8,51.2L628.5,50.2L629.3,49.1L630.0,47.9L630.8,46.6L631.5,45.3L632.3,43.9L633.0,42.4L633.8,40.8L634.6,39.1L635.3,37.3L636.1,35.3L636.8,33.3L637.6,31.3L638.3,29.2L639.1,27.2L639.8,25.2L640.6,23.2L641.4,21.4L642.1,19.6L642.9,18.0L643.6,16.5L644.4,15.2L645.1,14.1L645.9,13.2L646.6,12.5L647.4,12.0L648.2,11.7L648.9,11.7L649.7,12.0L650.4,12.5L651.2,13.2L651.9,14.3L652.7,15.5L653.4,17.0L654.2,18.7L654.9,20.6L655.7,22.7L656.5,24.9L657.2,27.2L658.0,29.7L658.7,32.2L659.5,34.7L660.2,37.3L661.0,39.8L661.7,42.3L662.5,44.8L663.2,47.1L664.0,49.3L664.8,51.4L665.5,53.3L666.3,55.0L667.0,56.5L667.8,57.7L668.5,58.8L669.3,59.5L670.0,60.0L670.8,60.3" fill="none" stroke="#a020f0" stroke-width="1.1" stroke-linejoin="round"/>
<line x1="482.7" y1="60.3" x2="678.4" y2="60.3" stroke="#000" stroke-opacity="0.15" stroke-width="0.9"/>
<line x1="482.7" y1="60.3" x2="678.4" y2="60.3" stroke="#000" stroke-opacity="0.6" stroke-width="0.9" stroke-dasharray="1.9,0.9"/>
<rect x="482.7" y="0.3" width="195.70" height="91.80" fill="none" stroke="#000" stroke-width="1.1"/>
<line x1="489.60" y1="92.1" x2="489.60" y2="93.89999999999999" stroke="#000" stroke-width="0.8"/>
<text x="489.60" y="99.00" font-size="3" text-anchor="middle" stroke="#000" stroke-width="0.12" font-family="Liberation Sans, Arial, sans-serif">0</text>
<line x1="519.80" y1="92.1" x2="519.80" y2="93.89999999999999" stroke="#000" stroke-width="0.8"/>
<text x="519.80" y="99.00" font-size="3" text-anchor="middle" stroke="#000" stroke-width="0.12" font-family="Liberation Sans, Arial, sans-serif">10</text>
<line x1="550.00" y1="92.1" x2="550.00" y2="93.89999999999999" stroke="#000" stroke-width="0.8"/>
<text x="550.00" y="99.00" font-size="3" text-anchor="middle" stroke="#000" stroke-width="0.12" font-family="Liberation Sans, Arial, sans-serif">20</text>
<line x1="580.20" y1="92.1" x2="580.20" y2="93.89999999999999" stroke="#000" stroke-width="0.8"/>
<text x="580.20" y="99.00" font-size="3" text-anchor="middle" stroke="#000" stroke-width="0.12" font-family="Liberation Sans, Arial, sans-serif">30</text>
<line x1="610.40" y1="92.1" x2="610.40" y2="93.89999999999999" stroke="#000" stroke-width="0.8"/>
<text x="610.40" y="99.00" font-size="3" text-anchor="middle" stroke="#000" stroke-width="0.12" font-family="Liberation Sans, Arial, sans-serif">40</text>
<line x1="640.60" y1="92.1" x2="640.60" y2="93.89999999999999" stroke="#000" stroke-width="0.8"/>
<text x="640.60" y="99.00" font-size="3" text-anchor="middle" stroke="#000" stroke-width="0.12" font-family="Liberation Sans, Arial, sans-serif">50</text>
<line x1="670.80" y1="92.1" x2="670.80" y2="93.89999999999999" stroke="#000" stroke-width="0.8"/>
<text x="670.80" y="99.00" font-size="3" text-anchor="middle" stroke="#000" stroke-width="0.12" font-family="Liberation Sans, Arial, sans-serif">60</text>
<line x1="480.9" y1="3.4" x2="482.7" y2="3.4" stroke="#000" stroke-width="0.8"/>
<text transform="translate(478.50,3.4) rotate(-90)" font-size="3" text-anchor="middle" stroke="#000" stroke-width="0.12" font-family="Liberation Sans, Arial, sans-serif">30</text>
<line x1="480.9" y1="22.3" x2="482.7" y2="22.3" stroke="#000" stroke-width="0.8"/>
<text transform="translate(478.50,22.3) rotate(-90)" font-size="3" text-anchor="middle" stroke="#000" stroke-width="0.12" font-family="Liberation Sans, Arial, sans-serif">20</text>
<line x1="480.9" y1="41.1" x2="482.7" y2="41.1" stroke="#000" stroke-width="0.8"/>
<text transform="translate(478.50,41.1) rotate(-90)" font-size="3" text-anchor="middle" stroke="#000" stroke-width="0.12" font-family="Liberation Sans, Arial, sans-serif">10</text>
<line x1="480.9" y1="60.2" x2="482.7" y2="60.2" stroke="#000" stroke-width="0.8"/>
<text transform="translate(478.50,60.2) rotate(-90)" font-size="3" text-anchor="middle" stroke="#000" stroke-width="0.12" font-family="Liberation Sans, Arial, sans-serif">0</text>
<line x1="480.9" y1="79" x2="482.7" y2="79" stroke="#000" stroke-width="0.8"/>
<text transform="translate(478.50,79) rotate(-90)" font-size="3" text-anchor="middle" stroke="#000" stroke-width="0.12" font-family="Liberation Sans, Arial, sans-serif">-10</text>
<text x="580.55" y="106.50" font-size="3.2" text-anchor="middle" stroke="#000" stroke-width="0.1" font-family="Liberation Sans, Arial, sans-serif">Days of Year</text>
<text transform="translate(469.70,46.20) rotate(-90)" font-size="4.2" text-anchor="middle" stroke="#000" stroke-width="0.12" font-family="Liberation Sans, Arial, sans-serif">&#916;<tspan font-size='3' dy='0.8'>x|&#952;</tspan></text>
<path d="M24.3,223.3L25.1,223.9L25.8,224.5L26.6,225.0L27.3,225.4L28.1,225.6L28.9,225.6L29.6,225.5L30.4,225.2L31.1,224.8L31.9,224.2L32.6,223.5L33.4,222.8L34.2,222.0L34.9,221.2L35.7,220.4L36.4,219.5L37.2,218.7L38.0,217.9L38.7,217.1L39.5,216.4L40.2,215.6L41.0,214.9L41.7,214.3L42.5,213.7L43.3,213.2L44.0,212.7L44.8,212.2L45.5,211.8L46.3,211.5L47.1,211.2L47.8,211.0L48.6,210.8L49.3,210.6L50.1,210.4L50.9,210.3L51.6,210.2L52.4,210.1L53.1,210.0L53.9,210.0L54.6,209.9L55.4,209.9L56.2,209.8L56.9,209.7L57.7,209.6L58.4,209.5L59.2,209.4L60.0,209.2L60.7,209.1L61.5,208.8L62.2,208.5L63.0,208.2L63.7,207.8L64.5,207.4L65.3,206.9L66.0,206.3L66.8,205.6L67.5,204.9L68.3,204.0L69.1,203.1L69.8,202.2L70.6,201.2L71.3,200.1L72.1,199.1L72.8,198.0L73.6,196.9L74.4,195.9L75.1,194.8L75.9,193.8L76.6,192.9L77.4,192.0L78.2,191.2L78.9,190.5L79.7,190.0L80.4,189.6L81.2,189.3L82.0,189.3L82.7,189.4L83.5,189.8L84.2,190.3L85.0,191.0L85.7,191.8L86.5,192.8L87.3,193.9L88.0,195.1L88.8,196.5L89.5,198.0L90.3,199.5L91.1,201.2L91.8,202.9L92.6,204.6L93.3,206.4L94.1,208.2L94.8,209.9L95.6,211.7L96.4,213.3L97.1,214.9L97.9,216.5L98.6,217.9L99.4,219.2L100.2,220.3L100.9,221.3L101.7,222.1L102.4,222.8L103.2,223.2L104.0,223.4L104.7,223.4L105.5,223.1L106.2,222.6L107.0,221.8L107.7,220.9L108.5,219.8L109.3,218.5L110.0,217.0L110.8,215.3L111.5,213.5L112.3,211.7L113.1,209.8L113.8,207.9L114.6,206.0L115.3,204.2L116.1,202.6L116.8,201.1L117.6,199.7L118.4,198.5L119.1,197.4L119.9,196.4L120.6,195.7L121.4,195.1L122.2,194.6L122.9,194.4L123.7,194.4L124.4,194.6L125.2,195.0L125.9,195.6L126.7,196.4L127.5,197.6L128.2,199.0L129.0,200.6L129.7,202.6L130.5,204.8L131.3,207.3L132.0,210.0L132.8,212.7L133.5,215.4L134.3,218.0L135.1,220.4L135.8,222.8L136.6,225.0L137.3,227.1L138.1,229.1L138.8,231.1L139.6,232.9L140.4,234.7L141.1,236.4L141.9,237.9L142.6,239.3L143.4,240.5L144.2,241.5L144.9,242.4L145.7,243.0L146.4,243.4L147.2,243.6L147.9,243.5L148.7,243.2L149.5,242.7L150.2,242.0L151.0,241.1L151.7,240.0L152.5,238.8L153.3,237.5L154.0,236.1L154.8,234.6L155.5,233.0L156.3,231.4L157.1,229.8L157.8,228.2L158.6,226.6L159.3,225.0L160.1,223.5L160.8,222.1L161.6,220.8L162.4,219.5L163.1,218.4L163.9,217.4L164.6,216.6L165.4,215.8L166.2,215.2L166.9,214.7L167.7,214.4L168.4,214.2L169.2,214.1L169.9,214.1L170.7,214.3L171.5,214.7L172.2,215.1L173.0,215.7L173.7,216.3L174.5,217.1L175.3,217.9L176.0,218.7L176.8,219.7L177.5,220.7L178.3,221.7L179.0,222.8L179.8,223.9L180.6,225.0L181.3,226.1L182.1,227.3L182.8,228.5L183.6,229.7L184.4,230.9L185.1,232.1L185.9,233.3L186.6,234.5L187.4,235.7L188.2,236.8L188.9,238.0L189.7,239.1L190.4,240.1L191.2,241.0L191.9,241.9L192.7,242.7L193.5,243.4L194.2,244.1L195.0,244.6L195.7,244.9L196.5,245.2L197.3,245.3L198.0,245.3L198.8,245.1L199.5,244.7L200.3,244.1L201.0,243.4L201.8,242.4L202.6,241.2L203.3,239.7L204.1,238.1L204.8,236.3L205.6,234.4" fill="none" stroke="#ff0000" stroke-width="1.1" stroke-linejoin="round"/>
<path d="M24.3,190.7L25.1,191.6L25.8,192.4L26.6,193.3L27.3,194.1L28.1,194.9L28.9,195.7L29.6,196.4L30.4,197.1L31.1,197.7L31.9,198.2L32.6,198.6L33.4,199.0L34.2,199.3L34.9,199.5L35.7,199.6L36.4,199.7L37.2,199.8L38.0,199.8L38.7,199.8L39.5,199.8L40.2,199.9L41.0,199.9L41.7,200.0L42.5,200.1L43.3,200.2L44.0,200.3L44.8,200.5L45.5,200.7L46.3,200.9L47.1,201.1L47.8,201.3L48.6,201.6L49.3,201.8L50.1,202.1L50.9,202.4L51.6,202.7L52.4,203.0L53.1,203.3L53.9,203.6L54.6,203.9L55.4,204.3L56.2,204.6L56.9,204.9L57.7,205.2L58.4,205.5L59.2,205.7L60.0,206.0L60.7,206.3L61.5,206.5L62.2,206.7L63.0,206.9L63.7,207.1L64.5,207.2L65.3,207.3L66.0,207.4L66.8,207.4L67.5,207.4L68.3,207.4L69.1,207.3L69.8,207.2L70.6,207.0L71.3,206.9L72.1,206.7L72.8,206.5L73.6,206.3L74.4,206.1L75.1,205.9L75.9,205.6L76.6,205.4L77.4,205.2L78.2,205.0L78.9,204.7L79.7,204.5L80.4,204.3L81.2,204.2L82.0,204.0L82.7,203.8L83.5,203.7L84.2,203.6L85.0,203.5L85.7,203.4L86.5,203.4L87.3,203.4L88.0,203.4L88.8,203.5L89.5,203.5L90.3,203.6L91.1,203.8L91.8,203.9L92.6,204.0L93.3,204.2L94.1,204.4L94.8,204.6L95.6,204.8L96.4,205.0L97.1,205.2L97.9,205.4L98.6,205.6L99.4,205.8L100.2,206.0L100.9,206.2L101.7,206.4L102.4,206.6L103.2,206.8L104.0,207.0L104.7,207.2L105.5,207.3L106.2,207.5L107.0,207.6L107.7,207.8L108.5,207.9L109.3,208.1L110.0,208.2L110.8,208.3L111.5,208.5L112.3,208.6L113.1,208.7L113.8,208.8L114.6,209.0L115.3,209.1L116.1,209.2L116.8,209.4L117.6,209.5L118.4,209.7L119.1,209.8L119.9,210.0L120.6,210.1L121.4,210.3L122.2,210.5L122.9,210.7L123.7,211.0L124.4,211.2L125.2,211.4L125.9,211.7L126.7,212.0L127.5,212.3L128.2,212.6L129.0,212.9L129.7,213.3L130.5,213.6L131.3,214.0L132.0,214.4L132.8,214.8L133.5,215.3L134.3,215.7L135.1,216.1L135.8,216.5L136.6,216.9L137.3,217.3L138.1,217.6L138.8,217.9L139.6,218.1L140.4,218.3L141.1,218.4L141.9,218.4L142.6,218.3L143.4,218.2L144.2,218.0L144.9,217.7L145.7,217.4L146.4,217.1L147.2,216.7L147.9,216.3L148.7,215.8L149.5,215.4L150.2,214.9L151.0,214.5L151.7,214.0L152.5,213.5L153.3,213.0L154.0,212.5L154.8,212.0L155.5,211.5L156.3,211.1L157.1,210.6L157.8,210.1L158.6,209.7L159.3,209.4L160.1,209.1L160.8,208.8L161.6,208.7L162.4,208.6L163.1,208.6L163.9,208.7L164.6,208.9L165.4,209.2L166.2,209.6L166.9,210.1L167.7,210.6L168.4,211.1L169.2,211.7L169.9,212.2L170.7,212.8L171.5,213.4L172.2,214.0L173.0,214.5L173.7,215.1L174.5,215.6L175.3,216.0L176.0,216.5L176.8,216.8L177.5,217.1L178.3,217.4L179.0,217.6L179.8,217.7L180.6,217.7L181.3,217.6L182.1,217.4L182.8,217.1L183.6,216.8L184.4,216.3L185.1,215.7L185.9,215.0L186.6,214.1L187.4,213.2L188.2,212.1L188.9,211.0L189.7,209.8L190.4,208.5L191.2,207.2L191.9,206.0L192.7,204.7L193.5,203.5L194.2,202.3L195.0,201.3L195.7,200.4L196.5,199.6L197.3,199.0L198.0,198.7L198.8,198.6L199.5,198.8L200.3,199.3L201.0,200.0L201.8,201.1L202.6,202.5L203.3,204.1L204.1,206.0L204.8,208.1L205.6,210.3" fill="none" stroke="#00ff00" stroke-width="1.1" stroke-linejoin="round"/>
<path d="M24.3,234.8L25.1,236.3L25.8,237.8L26.6,239.2L27.3,240.5L28.1,241.8L28.9,242.9L29.6,243.9L30.4,244.7L31.1,245.3L31.9,245.9L32.6,246.3L33.4,246.6L34.2,246.9L34.9,247.1L35.7,247.2L36.4,247.2L37.2,247.3L38.0,247.3L38.7,247.2L39.5,247.2L40.2,247.1L41.0,247.0L41.7,246.9L42.5,246.8L43.3,246.7L44.0,246.6L44.8,246.4L45.5,246.3L46.3,246.2L47.1,246.1L47.8,245.9L48.6,245.8L49.3,245.8L50.1,245.7L50.9,245.7L51.6,245.7L52.4,245.7L53.1,245.7L53.9,245.8L54.6,245.8L55.4,245.9L56.2,246.0L56.9,246.2L57.7,246.3L58.4,246.5L59.2,246.6L60.0,246.8L60.7,247.0L61.5,247.2L62.2,247.4L63.0,247.6L63.7,247.9L64.5,248.1L65.3,248.3L66.0,248.6L66.8,248.8L67.5,249.0L68.3,249.3L69.1,249.5L69.8,249.7L70.6,250.0L71.3,250.2L72.1,250.4L72.8,250.6L73.6,250.7L74.4,250.9L75.1,251.0L75.9,251.1L76.6,251.2L77.4,251.2L78.2,251.2L78.9,251.2L79.7,251.1L80.4,251.0L81.2,250.8L82.0,250.6L82.7,250.4L83.5,250.1L84.2,249.8L85.0,249.4L85.7,249.0L86.5,248.6L87.3,248.1L88.0,247.6L88.8,247.0L89.5,246.4L90.3,245.7L91.1,245.0L91.8,244.3L92.6,243.6L93.3,242.9L94.1,242.2L94.8,241.5L95.6,240.8L96.4,240.2L97.1,239.5L97.9,239.0L98.6,238.4L99.4,238.0L100.2,237.5L100.9,237.2L101.7,236.8L102.4,236.6L103.2,236.3L104.0,236.1L104.7,236.0L105.5,235.9L106.2,235.9L107.0,235.9L107.7,235.9L108.5,236.0L109.3,236.1L110.0,236.2L110.8,236.3L111.5,236.4L112.3,236.5L113.1,236.5L113.8,236.5L114.6,236.5L115.3,236.4L116.1,236.3L116.8,236.1L117.6,235.8L118.4,235.4L119.1,235.0L119.9,234.5L120.6,233.9L121.4,233.2L122.2,232.4L122.9,231.5L123.7,230.4L124.4,229.3L125.2,228.1L125.9,226.7L126.7,225.3L127.5,223.7L128.2,222.0L129.0,220.3L129.7,218.5L130.5,216.6L131.3,214.8L132.0,213.0L132.8,211.2L133.5,209.3L134.3,207.4L135.1,205.4L135.8,203.2L136.6,200.9L137.3,198.6L138.1,196.2L138.8,194.0L139.6,191.8L140.4,189.8L141.1,188.0L141.9,186.5L142.6,185.1L143.4,183.9L144.2,182.9L144.9,182.1L145.7,181.4L146.4,180.8L147.2,180.4L147.9,180.0L148.7,179.8L149.5,179.7L150.2,179.6L151.0,179.6L151.7,179.6L152.5,179.7L153.3,179.9L154.0,180.1L154.8,180.4L155.5,180.7L156.3,181.2L157.1,181.7L157.8,182.3L158.6,183.1L159.3,183.9L160.1,184.8L160.8,185.9L161.6,187.0L162.4,188.3L163.1,189.6L163.9,191.0L164.6,192.4L165.4,193.9L166.2,195.4L166.9,196.8L167.7,198.3L168.4,199.7L169.2,201.1L169.9,202.4L170.7,203.6L171.5,204.8L172.2,205.9L173.0,207.0L173.7,208.0L174.5,208.8L175.3,209.6L176.0,210.4L176.8,211.0L177.5,211.5L178.3,212.0L179.0,212.3L179.8,212.6L180.6,212.7L181.3,212.7L182.1,212.6L182.8,212.4L183.6,212.0L184.4,211.5L185.1,210.9L185.9,210.1L186.6,209.2L187.4,208.0L188.2,206.8L188.9,205.3L189.7,203.6L190.4,201.8L191.2,199.9L191.9,197.9L192.7,195.9L193.5,193.8L194.2,191.8L195.0,190.0L195.7,188.2L196.5,186.6L197.3,185.2L198.0,183.9L198.8,182.9L199.5,182.2L200.3,181.7L201.0,181.6L201.8,181.7L202.6,182.2L203.3,183.0L204.1,184.0L204.8,185.1L205.6,186.3" fill="none" stroke="#0000ff" stroke-width="1.1" stroke-linejoin="round"/>
<path d="M24.3,226.1L25.1,226.5L25.8,227.0L26.6,227.4L27.3,227.7L28.1,228.1L28.9,228.4L29.6,228.7L30.4,229.0L31.1,229.1L31.9,229.3L32.6,229.3L33.4,229.3L34.2,229.2L34.9,229.1L35.7,229.0L36.4,228.8L37.2,228.6L38.0,228.3L38.7,228.0L39.5,227.8L40.2,227.4L41.0,227.1L41.7,226.8L42.5,226.5L43.3,226.2L44.0,225.9L44.8,225.6L45.5,225.3L46.3,225.1L47.1,224.9L47.8,224.7L48.6,224.5L49.3,224.3L50.1,224.2L50.9,224.0L51.6,223.9L52.4,223.8L53.1,223.7L53.9,223.7L54.6,223.6L55.4,223.6L56.2,223.5L56.9,223.5L57.7,223.4L58.4,223.4L59.2,223.4L60.0,223.3L60.7,223.3L61.5,223.3L62.2,223.2L63.0,223.2L63.7,223.2L64.5,223.1L65.3,223.1L66.0,223.0L66.8,222.9L67.5,222.9L68.3,222.8L69.1,222.7L69.8,222.5L70.6,222.4L71.3,222.3L72.1,222.2L72.8,222.0L73.6,221.9L74.4,221.8L75.1,221.6L75.9,221.5L76.6,221.3L77.4,221.2L78.2,221.1L78.9,221.0L79.7,220.9L80.4,220.7L81.2,220.7L82.0,220.6L82.7,220.5L83.5,220.4L84.2,220.4L85.0,220.3L85.7,220.3L86.5,220.3L87.3,220.3L88.0,220.3L88.8,220.4L89.5,220.4L90.3,220.5L91.1,220.5L91.8,220.6L92.6,220.7L93.3,220.7L94.1,220.8L94.8,220.9L95.6,221.0L96.4,221.1L97.1,221.2L97.9,221.3L98.6,221.4L99.4,221.5L100.2,221.6L100.9,221.7L101.7,221.8L102.4,221.9L103.2,222.0L104.0,222.1L104.7,222.2L105.5,222.3L106.2,222.4L107.0,222.5L107.7,222.6L108.5,222.7L109.3,222.8L110.0,222.8L110.8,222.9L111.5,223.0L112.3,223.0L113.1,223.1L113.8,223.1L114.6,223.2L115.3,223.2L116.1,223.2L116.8,223.3L117.6,223.3L118.4,223.3L119.1,223.3L119.9,223.3L120.6,223.3L121.4,223.3L122.2,223.3L122.9,223.3L123.7,223.3L124.4,223.3L125.2,223.2L125.9,223.2L126.7,223.2L127.5,223.2L128.2,223.2L129.0,223.2L129.7,223.3L130.5,223.3L131.3,223.3L132.0,223.3L132.8,223.3L133.5,223.4L134.3,223.4L135.1,223.5L135.8,223.6L136.6,223.6L137.3,223.7L138.1,223.8L138.8,223.9L139.6,224.0L140.4,224.1L141.1,224.2L141.9,224.3L142.6,224.5L143.4,224.6L144.2,224.7L144.9,224.8L145.7,225.0L146.4,225.1L147.2,225.2L147.9,225.4L148.7,225.5L149.5,225.6L150.2,225.7L151.0,225.8L151.7,226.0L152.5,226.1L153.3,226.2L154.0,226.3L154.8,226.4L155.5,226.4L156.3,226.5L157.1,226.6L157.8,226.7L158.6,226.7L159.3,226.8L160.1,226.8L160.8,226.8L161.6,226.8L162.4,226.8L163.1,226.8L163.9,226.8L164.6,226.8L165.4,226.7L166.2,226.7L166.9,226.6L167.7,226.5L168.4,226.4L169.2,226.3L169.9,226.2L170.7,226.1L171.5,226.0L172.2,225.9L173.0,225.8L173.7,225.7L174.5,225.5L175.3,225.4L176.0,225.3L176.8,225.2L177.5,225.0L178.3,224.9L179.0,224.8L179.8,224.6L180.6,224.5L181.3,224.4L182.1,224.3L182.8,224.2L183.6,224.1L184.4,224.0L185.1,223.9L185.9,223.8L186.6,223.7L187.4,223.6L188.2,223.6L188.9,223.5L189.7,223.5L190.4,223.4L191.2,223.4L191.9,223.4L192.7,223.4L193.5,223.4L194.2,223.4L195.0,223.4L195.7,223.4L196.5,223.4L197.3,223.4L198.0,223.5L198.8,223.5L199.5,223.6L200.3,223.6L201.0,223.7L201.8,223.7L202.6,223.8L203.3,223.8L204.1,223.9L204.8,223.9L205.6,224.0" fill="none" stroke="#a020f0" stroke-width="1.1" stroke-linejoin="round"/>
<line x1="16.9" y1="213.2" x2="212.9" y2="213.2" stroke="#000" stroke-opacity="0.35" stroke-width="0.9"/>
<line x1="16.9" y1="213.2" x2="212.9" y2="213.2" stroke="#000" stroke-opacity="0.8" stroke-width="0.9" stroke-dasharray="1.9,0.9"/>
<rect x="16.9" y="170.5" width="196.00" height="91.60" fill="none" stroke="#000" stroke-width="1.1"/>
<line x1="24.30" y1="262.1" x2="24.30" y2="263.90000000000003" stroke="#000" stroke-width="0.8"/>
<text x="24.30" y="269.00" font-size="3" text-anchor="middle" stroke="#000" stroke-width="0.12" font-family="Liberation Sans, Arial, sans-serif">0</text>
<line x1="54.50" y1="262.1" x2="54.50" y2="263.90000000000003" stroke="#000" stroke-width="0.8"/>
<text x="54.50" y="269.00" font-size="3" text-anchor="middle" stroke="#000" stroke-width="0.12" font-family="Liberation Sans, Arial, sans-serif">10</text>
<line x1="84.70" y1="262.1" x2="84.70" y2="263.90000000000003" stroke="#000" stroke-width="0.8"/>
<text x="84.70" y="269.00" font-size="3" text-anchor="middle" stroke="#000" stroke-width="0.12" font-family="Liberation Sans, Arial, sans-serif">20</text>
<line x1="114.90" y1="262.1" x2="114.90" y2="263.90000000000003" stroke="#000" stroke-width="0.8"/>
<text x="114.90" y="269.00" font-size="3" text-anchor="middle" stroke="#000" stroke-width="0.12" font-family="Liberation Sans, Arial, sans-serif">30</text>
<line x1="145.10" y1="262.1" x2="145.10" y2="263.90000000000003" stroke="#000" stroke-width="0.8"/>
<text x="145.10" y="269.00" font-size="3" text-anchor="middle" stroke="#000" stroke-width="0.12" font-family="Liberation Sans, Arial, sans-serif">40</text>
<line x1="175.30" y1="262.1" x2="175.30" y2="263.90000000000003" stroke="#000" stroke-width="0.8"/>
<text x="175.30" y="269.00" font-size="3" text-anchor="middle" stroke="#000" stroke-width="0.12" font-family="Liberation Sans, Arial, sans-serif">50</text>
<line x1="205.50" y1="262.1" x2="205.50" y2="263.90000000000003" stroke="#000" stroke-width="0.8"/>
<text x="205.50" y="269.00" font-size="3" text-anchor="middle" stroke="#000" stroke-width="0.12" font-family="Liberation Sans, Arial, sans-serif">60</text>
<line x1="15.099999999999998" y1="191.3" x2="16.9" y2="191.3" stroke="#000" stroke-width="0.8"/>
<text transform="translate(12.70,191.3) rotate(-90)" font-size="3" text-anchor="middle" stroke="#000" stroke-width="0.12" font-family="Liberation Sans, Arial, sans-serif">0.1</text>
<line x1="15.099999999999998" y1="213.2" x2="16.9" y2="213.2" stroke="#000" stroke-width="0.8"/>
<text transform="translate(12.70,213.2) rotate(-90)" font-size="3" text-anchor="middle" stroke="#000" stroke-width="0.12" font-family="Liberation Sans, Arial, sans-serif">0.0</text>
<line x1="15.099999999999998" y1="235.2" x2="16.9" y2="235.2" stroke="#000" stroke-width="0.8"/>
<text transform="translate(12.70,235.2) rotate(-90)" font-size="3" text-anchor="middle" stroke="#000" stroke-width="0.12" font-family="Liberation Sans, Arial, sans-serif">-0.1</text>
<line x1="15.099999999999998" y1="257" x2="16.9" y2="257" stroke="#000" stroke-width="0.8"/>
<text transform="translate(12.70,257) rotate(-90)" font-size="3" text-anchor="middle" stroke="#000" stroke-width="0.12" font-family="Liberation Sans, Arial, sans-serif">-0.2</text>
<text x="114.90" y="276.50" font-size="3.2" text-anchor="middle" stroke="#000" stroke-width="0.1" font-family="Liberation Sans, Arial, sans-serif">Time (sec.)</text>
<text transform="translate(3.90,216.30) rotate(-90)" font-size="4.2" text-anchor="middle" stroke="#000" stroke-width="0.12" font-family="Liberation Sans, Arial, sans-serif">&#946;<tspan font-size='3' dy='0.8'>x|0</tspan></text>
<path d="M256.8,230.2L257.6,229.5L258.3,228.7L259.1,228.1L259.8,227.5L260.6,227.0L261.4,226.7L262.1,226.5L262.9,226.4L263.6,226.5L264.4,226.7L265.1,227.1L265.9,227.4L266.7,227.8L267.4,228.3L268.2,228.7L268.9,229.1L269.7,229.5L270.5,229.8L271.2,230.1L272.0,230.3L272.7,230.4L273.5,230.5L274.3,230.5L275.0,230.3L275.8,230.0L276.5,229.7L277.3,229.1L278.1,228.5L278.8,227.7L279.6,226.7L280.3,225.6L281.1,224.3L281.8,222.9L282.6,221.4L283.4,219.8L284.1,218.1L284.9,216.4L285.6,214.7L286.4,213.0L287.2,211.3L287.9,209.7L288.7,208.1L289.4,206.6L290.2,205.2L291.0,203.9L291.7,202.7L292.5,201.7L293.2,200.8L294.0,200.0L294.7,199.5L295.5,199.1L296.3,199.0L297.0,199.1L297.8,199.4L298.5,200.0L299.3,200.7L300.1,201.7L300.8,202.8L301.6,204.0L302.3,205.4L303.1,206.9L303.9,208.5L304.6,210.2L305.4,211.9L306.1,213.6L306.9,215.4L307.7,217.2L308.4,219.0L309.2,220.7L309.9,222.4L310.7,224.1L311.4,225.7L312.2,227.2L313.0,228.6L313.7,229.9L314.5,231.1L315.2,232.1L316.0,232.9L316.8,233.5L317.5,234.0L318.3,234.3L319.0,234.4L319.8,234.3L320.6,234.0L321.3,233.6L322.1,233.0L322.8,232.3L323.6,231.5L324.4,230.6L325.1,229.6L325.9,228.6L326.6,227.5L327.4,226.4L328.1,225.4L328.9,224.3L329.7,223.2L330.4,222.2L331.2,221.2L331.9,220.3L332.7,219.4L333.5,218.7L334.2,218.1L335.0,217.6L335.7,217.3L336.5,217.1L337.3,217.1L338.0,217.4L338.8,217.8L339.5,218.3L340.3,219.0L341.0,219.9L341.8,220.8L342.6,221.9L343.3,223.0L344.1,224.2L344.8,225.4L345.6,226.7L346.4,227.9L347.1,229.2L347.9,230.4L348.6,231.5L349.4,232.6L350.2,233.6L350.9,234.5L351.7,235.3L352.4,236.0L353.2,236.6L354.0,237.0L354.7,237.3L355.5,237.4L356.2,237.3L357.0,237.0L357.7,236.6L358.5,235.9L359.3,235.0L360.0,233.8L360.8,232.4L361.5,230.8L362.3,228.9L363.1,226.8L363.8,224.5L364.6,222.1L365.3,219.7L366.1,217.3L366.9,214.9L367.6,212.7L368.4,210.6L369.1,208.6L369.9,206.7L370.6,204.8L371.4,203.0L372.2,201.3L372.9,199.6L373.7,198.0L374.4,196.5L375.2,195.1L376.0,193.8L376.7,192.6L377.5,191.6L378.2,190.8L379.0,190.2L379.8,189.8L380.5,189.6L381.3,189.6L382.0,189.9L382.8,190.3L383.6,190.9L384.3,191.7L385.1,192.6L385.8,193.7L386.6,194.9L387.3,196.1L388.1,197.5L388.9,198.9L389.6,200.4L390.4,201.9L391.1,203.4L391.9,204.9L392.7,206.4L393.4,207.8L394.2,209.1L394.9,210.4L395.7,211.5L396.5,212.6L397.2,213.5L398.0,214.3L398.7,215.0L399.5,215.5L400.3,216.0L401.0,216.4L401.8,216.7L402.5,217.0L403.3,217.1L404.0,217.2L404.8,217.2L405.6,217.1L406.3,217.0L407.1,216.8L407.8,216.6L408.6,216.3L409.4,215.9L410.1,215.5L410.9,215.0L411.6,214.5L412.4,213.9L413.2,213.3L413.9,212.6L414.7,211.9L415.4,211.1L416.2,210.3L416.9,209.5L417.7,208.7L418.5,207.8L419.2,207.0L420.0,206.2L420.7,205.5L421.5,204.7L422.3,204.0L423.0,203.4L423.8,202.9L424.5,202.4L425.3,202.0L426.1,201.7L426.8,201.4L427.6,201.3L428.3,201.1L429.1,201.1L429.9,201.1L430.6,201.2L431.4,201.3L432.1,201.6L432.9,201.9L433.6,202.4L434.4,203.1L435.2,203.9L435.9,204.8L436.7,206.0L437.4,207.3L438.2,208.6" fill="none" stroke="#ff0000" stroke-width="1.1" stroke-linejoin="round"/>
<path d="M256.8,234.9L257.6,233.7L258.3,232.4L259.1,231.3L259.8,230.2L260.6,229.1L261.4,228.3L262.1,227.5L262.9,226.9L263.6,226.4L264.4,226.1L265.1,225.8L265.9,225.7L266.7,225.6L267.4,225.5L268.2,225.5L268.9,225.5L269.7,225.5L270.5,225.5L271.2,225.5L272.0,225.5L272.7,225.5L273.5,225.5L274.3,225.5L275.0,225.4L275.8,225.4L276.5,225.3L277.3,225.3L278.1,225.2L278.8,225.1L279.6,224.9L280.3,224.8L281.1,224.6L281.8,224.4L282.6,224.2L283.4,224.0L284.1,223.7L284.9,223.5L285.6,223.2L286.4,223.0L287.2,222.8L287.9,222.6L288.7,222.4L289.4,222.2L290.2,222.0L291.0,221.9L291.7,221.8L292.5,221.8L293.2,221.8L294.0,221.8L294.7,221.9L295.5,222.1L296.3,222.2L297.0,222.5L297.8,222.8L298.5,223.1L299.3,223.4L300.1,223.8L300.8,224.3L301.6,224.8L302.3,225.3L303.1,225.8L303.9,226.4L304.6,226.9L305.4,227.5L306.1,228.1L306.9,228.7L307.7,229.3L308.4,229.9L309.2,230.4L309.9,230.9L310.7,231.4L311.4,231.8L312.2,232.2L313.0,232.5L313.7,232.8L314.5,233.1L315.2,233.3L316.0,233.4L316.8,233.5L317.5,233.5L318.3,233.5L319.0,233.4L319.8,233.2L320.6,232.9L321.3,232.6L322.1,232.3L322.8,231.9L323.6,231.5L324.4,231.0L325.1,230.5L325.9,230.0L326.6,229.5L327.4,228.9L328.1,228.4L328.9,227.8L329.7,227.2L330.4,226.7L331.2,226.1L331.9,225.6L332.7,225.1L333.5,224.6L334.2,224.2L335.0,223.8L335.7,223.4L336.5,223.0L337.3,222.7L338.0,222.4L338.8,222.2L339.5,221.9L340.3,221.7L341.0,221.5L341.8,221.4L342.6,221.2L343.3,221.1L344.1,221.0L344.8,220.9L345.6,220.8L346.4,220.8L347.1,220.7L347.9,220.6L348.6,220.6L349.4,220.5L350.2,220.5L350.9,220.5L351.7,220.4L352.4,220.4L353.2,220.4L354.0,220.4L354.7,220.5L355.5,220.5L356.2,220.5L357.0,220.6L357.7,220.7L358.5,220.8L359.3,220.9L360.0,221.0L360.8,221.1L361.5,221.2L362.3,221.3L363.1,221.4L363.8,221.4L364.6,221.5L365.3,221.5L366.1,221.4L366.9,221.4L367.6,221.3L368.4,221.2L369.1,221.0L369.9,220.8L370.6,220.6L371.4,220.3L372.2,220.0L372.9,219.7L373.7,219.4L374.4,219.0L375.2,218.6L376.0,218.2L376.7,217.7L377.5,217.2L378.2,216.7L379.0,216.2L379.8,215.6L380.5,215.0L381.3,214.4L382.0,213.7L382.8,212.9L383.6,212.1L384.3,211.2L385.1,210.3L385.8,209.3L386.6,208.2L387.3,207.1L388.1,206.0L388.9,204.9L389.6,203.8L390.4,202.7L391.1,201.7L391.9,200.7L392.7,199.8L393.4,198.9L394.2,198.1L394.9,197.4L395.7,196.7L396.5,196.1L397.2,195.5L398.0,195.0L398.7,194.6L399.5,194.2L400.3,193.9L401.0,193.6L401.8,193.4L402.5,193.3L403.3,193.2L404.0,193.2L404.8,193.2L405.6,193.3L406.3,193.5L407.1,193.7L407.8,194.0L408.6,194.3L409.4,194.7L410.1,195.1L410.9,195.6L411.6,196.1L412.4,196.6L413.2,197.2L413.9,197.8L414.7,198.4L415.4,199.1L416.2,199.7L416.9,200.4L417.7,201.2L418.5,202.0L419.2,202.8L420.0,203.7L420.7,204.5L421.5,205.5L422.3,206.5L423.0,207.5L423.8,208.6L424.5,209.6L425.3,210.7L426.1,211.6L426.8,212.6L427.6,213.4L428.3,214.1L429.1,214.7L429.9,215.2L430.6,215.4L431.4,215.5L432.1,215.4L432.9,215.0L433.6,214.5L434.4,213.8L435.2,213.0L435.9,212.1L436.7,211.2L437.4,210.1L438.2,209.1" fill="none" stroke="#00ff00" stroke-width="1.1" stroke-linejoin="round"/>
<path d="M256.8,183.5L257.6,182.4L258.3,181.3L259.1,180.2L259.8,179.2L260.6,178.3L261.4,177.4L262.1,176.7L262.9,176.2L263.6,175.8L264.4,175.6L265.1,175.6L265.9,175.8L266.7,176.1L267.4,176.6L268.2,177.2L268.9,177.9L269.7,178.8L270.5,179.6L271.2,180.5L272.0,181.5L272.7,182.4L273.5,183.4L274.3,184.3L275.0,185.1L275.8,186.0L276.5,186.8L277.3,187.5L278.1,188.3L278.8,189.0L279.6,189.6L280.3,190.2L281.1,190.8L281.8,191.4L282.6,192.0L283.4,192.5L284.1,193.0L284.9,193.4L285.6,193.9L286.4,194.3L287.2,194.7L287.9,195.1L288.7,195.4L289.4,195.8L290.2,196.1L291.0,196.4L291.7,196.7L292.5,197.0L293.2,197.3L294.0,197.5L294.7,197.8L295.5,198.1L296.3,198.3L297.0,198.6L297.8,198.8L298.5,199.1L299.3,199.3L300.1,199.6L300.8,199.8L301.6,200.1L302.3,200.3L303.1,200.6L303.9,200.9L304.6,201.1L305.4,201.4L306.1,201.6L306.9,201.9L307.7,202.1L308.4,202.4L309.2,202.7L309.9,202.9L310.7,203.2L311.4,203.5L312.2,203.8L313.0,204.1L313.7,204.3L314.5,204.6L315.2,204.9L316.0,205.2L316.8,205.5L317.5,205.8L318.3,206.1L319.0,206.4L319.8,206.7L320.6,207.0L321.3,207.3L322.1,207.6L322.8,207.9L323.6,208.1L324.4,208.4L325.1,208.7L325.9,209.0L326.6,209.3L327.4,209.5L328.1,209.8L328.9,210.0L329.7,210.3L330.4,210.5L331.2,210.7L331.9,211.0L332.7,211.2L333.5,211.4L334.2,211.6L335.0,211.7L335.7,211.9L336.5,212.1L337.3,212.2L338.0,212.4L338.8,212.5L339.5,212.6L340.3,212.7L341.0,212.8L341.8,212.9L342.6,213.0L343.3,213.1L344.1,213.2L344.8,213.3L345.6,213.4L346.4,213.5L347.1,213.6L347.9,213.8L348.6,213.9L349.4,214.1L350.2,214.3L350.9,214.6L351.7,214.9L352.4,215.2L353.2,215.5L354.0,215.9L354.7,216.3L355.5,216.8L356.2,217.4L357.0,217.9L357.7,218.6L358.5,219.3L359.3,220.1L360.0,220.9L360.8,221.8L361.5,222.7L362.3,223.7L363.1,224.8L363.8,225.8L364.6,226.9L365.3,228.0L366.1,229.1L366.9,230.3L367.6,231.4L368.4,232.6L369.1,233.7L369.9,234.9L370.6,236.1L371.4,237.2L372.2,238.4L372.9,239.5L373.7,240.7L374.4,241.8L375.2,242.9L376.0,244.0L376.7,245.1L377.5,246.1L378.2,247.1L379.0,248.1L379.8,249.1L380.5,250.1L381.3,251.0L382.0,251.9L382.8,252.7L383.6,253.6L384.3,254.3L385.1,255.1L385.8,255.8L386.6,256.4L387.3,257.0L388.1,257.6L388.9,258.1L389.6,258.5L390.4,258.8L391.1,259.1L391.9,259.3L392.7,259.4L393.4,259.4L394.2,259.3L394.9,259.1L395.7,258.7L396.5,258.2L397.2,257.6L398.0,256.8L398.7,255.9L399.5,254.8L400.3,253.6L401.0,252.2L401.8,250.7L402.5,249.2L403.3,247.6L404.0,245.9L404.8,244.3L405.6,242.6L406.3,241.0L407.1,239.4L407.8,237.9L408.6,236.5L409.4,235.1L410.1,233.9L410.9,232.7L411.6,231.7L412.4,230.8L413.2,230.0L413.9,229.4L414.7,228.9L415.4,228.6L416.2,228.5L416.9,228.6L417.7,228.8L418.5,229.2L419.2,229.9L420.0,230.7L420.7,231.8L421.5,233.0L422.3,234.5L423.0,236.2L423.8,238.1L424.5,240.1L425.3,242.1L426.1,244.1L426.8,246.1L427.6,247.9L428.3,249.5L429.1,251.0L429.9,252.3L430.6,253.5L431.4,254.3L432.1,255.0L432.9,255.4L433.6,255.6L434.4,255.5L435.2,255.2L435.9,254.6L436.7,253.8L437.4,252.9L438.2,252.0" fill="none" stroke="#0000ff" stroke-width="1.1" stroke-linejoin="round"/>
<path d="M256.8,224.3L257.6,224.0L258.3,223.7L259.1,223.5L259.8,223.2L260.6,223.0L261.4,222.8L262.1,222.6L262.9,222.4L263.6,222.3L264.4,222.2L265.1,222.2L265.9,222.1L266.7,222.1L267.4,222.2L268.2,222.2L268.9,222.3L269.7,222.4L270.5,222.6L271.2,222.7L272.0,222.9L272.7,223.0L273.5,223.2L274.3,223.4L275.0,223.6L275.8,223.8L276.5,224.0L277.3,224.1L278.1,224.3L278.8,224.5L279.6,224.7L280.3,224.8L281.1,224.9L281.8,225.1L282.6,225.2L283.4,225.3L284.1,225.4L284.9,225.4L285.6,225.5L286.4,225.5L287.2,225.6L287.9,225.6L288.7,225.7L289.4,225.7L290.2,225.7L291.0,225.8L291.7,225.8L292.5,225.8L293.2,225.8L294.0,225.9L294.7,225.9L295.5,225.9L296.3,226.0L297.0,226.0L297.8,226.0L298.5,226.1L299.3,226.1L300.1,226.2L300.8,226.3L301.6,226.3L302.3,226.4L303.1,226.5L303.9,226.6L304.6,226.6L305.4,226.7L306.1,226.8L306.9,226.9L307.7,227.0L308.4,227.1L309.2,227.2L309.9,227.3L310.7,227.3L311.4,227.4L312.2,227.5L313.0,227.6L313.7,227.7L314.5,227.8L315.2,227.8L316.0,227.9L316.8,228.0L317.5,228.1L318.3,228.1L319.0,228.2L319.8,228.2L320.6,228.3L321.3,228.3L322.1,228.4L322.8,228.4L323.6,228.5L324.4,228.5L325.1,228.5L325.9,228.5L326.6,228.5L327.4,228.5L328.1,228.5L328.9,228.5L329.7,228.5L330.4,228.5L331.2,228.5L331.9,228.5L332.7,228.4L333.5,228.4L334.2,228.3L335.0,228.3L335.7,228.2L336.5,228.1L337.3,228.0L338.0,228.0L338.8,227.9L339.5,227.8L340.3,227.7L341.0,227.6L341.8,227.4L342.6,227.3L343.3,227.2L344.1,227.1L344.8,226.9L345.6,226.8L346.4,226.7L347.1,226.6L347.9,226.4L348.6,226.3L349.4,226.2L350.2,226.0L350.9,225.9L351.7,225.8L352.4,225.7L353.2,225.6L354.0,225.5L354.7,225.4L355.5,225.3L356.2,225.2L357.0,225.1L357.7,225.0L358.5,224.9L359.3,224.9L360.0,224.8L360.8,224.8L361.5,224.7L362.3,224.7L363.1,224.7L363.8,224.6L364.6,224.6L365.3,224.6L366.1,224.6L366.9,224.6L367.6,224.6L368.4,224.6L369.1,224.6L369.9,224.6L370.6,224.6L371.4,224.7L372.2,224.7L372.9,224.7L373.7,224.7L374.4,224.8L375.2,224.8L376.0,224.8L376.7,224.9L377.5,224.9L378.2,224.9L379.0,225.0L379.8,225.0L380.5,225.0L381.3,225.1L382.0,225.1L382.8,225.2L383.6,225.2L384.3,225.2L385.1,225.3L385.8,225.3L386.6,225.3L387.3,225.4L388.1,225.4L388.9,225.4L389.6,225.5L390.4,225.5L391.1,225.5L391.9,225.6L392.7,225.6L393.4,225.6L394.2,225.6L394.9,225.6L395.7,225.6L396.5,225.7L397.2,225.7L398.0,225.7L398.7,225.7L399.5,225.7L400.3,225.7L401.0,225.8L401.8,225.8L402.5,225.8L403.3,225.8L404.0,225.9L404.8,225.9L405.6,225.9L406.3,226.0L407.1,226.0L407.8,226.0L408.6,226.1L409.4,226.1L410.1,226.2L410.9,226.3L411.6,226.4L412.4,226.4L413.2,226.5L413.9,226.7L414.7,226.8L415.4,226.9L416.2,227.1L416.9,227.2L417.7,227.4L418.5,227.6L419.2,227.8L420.0,228.1L420.7,228.3L421.5,228.5L422.3,228.8L423.0,229.0L423.8,229.3L424.5,229.5L425.3,229.7L426.1,229.9L426.8,230.1L427.6,230.3L428.3,230.4L429.1,230.6L429.9,230.7L430.6,230.7L431.4,230.7L432.1,230.7L432.9,230.6L433.6,230.5L434.4,230.4L435.2,230.2L435.9,230.0L436.7,229.8L437.4,229.5L438.2,229.3" fill="none" stroke="#a020f0" stroke-width="1.1" stroke-linejoin="round"/>
<line x1="249.8" y1="230.7" x2="445.4" y2="230.7" stroke="#000" stroke-opacity="0.35" stroke-width="0.9"/>
<line x1="249.8" y1="230.7" x2="445.4" y2="230.7" stroke="#000" stroke-opacity="0.8" stroke-width="0.9" stroke-dasharray="1.9,0.9"/>
<rect x="249.8" y="170.5" width="195.60" height="91.60" fill="none" stroke="#000" stroke-width="1.1"/>
<line x1="256.80" y1="262.1" x2="256.80" y2="263.90000000000003" stroke="#000" stroke-width="0.8"/>
<text x="256.80" y="269.00" font-size="3" text-anchor="middle" stroke="#000" stroke-width="0.12" font-family="Liberation Sans, Arial, sans-serif">0</text>
<line x1="287.00" y1="262.1" x2="287.00" y2="263.90000000000003" stroke="#000" stroke-width="0.8"/>
<text x="287.00" y="269.00" font-size="3" text-anchor="middle" stroke="#000" stroke-width="0.12" font-family="Liberation Sans, Arial, sans-serif">10</text>
<line x1="317.20" y1="262.1" x2="317.20" y2="263.90000000000003" stroke="#000" stroke-width="0.8"/>
<text x="317.20" y="269.00" font-size="3" text-anchor="middle" stroke="#000" stroke-width="0.12" font-family="Liberation Sans, Arial, sans-serif">20</text>
<line x1="347.40" y1="262.1" x2="347.40" y2="263.90000000000003" stroke="#000" stroke-width="0.8"/>
<text x="347.40" y="269.00" font-size="3" text-anchor="middle" stroke="#000" stroke-width="0.12" font-family="Liberation Sans, Arial, sans-serif">30</text>
<line x1="377.60" y1="262.1" x2="377.60" y2="263.90000000000003" stroke="#000" stroke-width="0.8"/>
<text x="377.60" y="269.00" font-size="3" text-anchor="middle" stroke="#000" stroke-width="0.12" font-family="Liberation Sans, Arial, sans-serif">40</text>
<line x1="407.80" y1="262.1" x2="407.80" y2="263.90000000000003" stroke="#000" stroke-width="0.8"/>
<text x="407.80" y="269.00" font-size="3" text-anchor="middle" stroke="#000" stroke-width="0.12" font-family="Liberation Sans, Arial, sans-serif">50</text>
<line x1="438.00" y1="262.1" x2="438.00" y2="263.90000000000003" stroke="#000" stroke-width="0.8"/>
<text x="438.00" y="269.00" font-size="3" text-anchor="middle" stroke="#000" stroke-width="0.12" font-family="Liberation Sans, Arial, sans-serif">60</text>
<line x1="248.0" y1="173.7" x2="249.8" y2="173.7" stroke="#000" stroke-width="0.8"/>
<text transform="translate(245.60,173.7) rotate(-90)" font-size="3" text-anchor="middle" stroke="#000" stroke-width="0.12" font-family="Liberation Sans, Arial, sans-serif">0.10</text>
<line x1="248.0" y1="202.2" x2="249.8" y2="202.2" stroke="#000" stroke-width="0.8"/>
<text transform="translate(245.60,202.2) rotate(-90)" font-size="3" text-anchor="middle" stroke="#000" stroke-width="0.12" font-family="Liberation Sans, Arial, sans-serif">0.05</text>
<line x1="248.0" y1="230.7" x2="249.8" y2="230.7" stroke="#000" stroke-width="0.8"/>
<text transform="translate(245.60,230.7) rotate(-90)" font-size="3" text-anchor="middle" stroke="#000" stroke-width="0.12" font-family="Liberation Sans, Arial, sans-serif">0.00</text>
<line x1="248.0" y1="259.3" x2="249.8" y2="259.3" stroke="#000" stroke-width="0.8"/>
<text transform="translate(245.60,259.3) rotate(-90)" font-size="3" text-anchor="middle" stroke="#000" stroke-width="0.12" font-family="Liberation Sans, Arial, sans-serif">-0.05</text>
<text x="347.60" y="276.50" font-size="3.2" text-anchor="middle" stroke="#000" stroke-width="0.1" font-family="Liberation Sans, Arial, sans-serif">Time (sec.)</text>
<text transform="translate(236.80,216.30) rotate(-90)" font-size="4.2" text-anchor="middle" stroke="#000" stroke-width="0.12" font-family="Liberation Sans, Arial, sans-serif">&#946;<tspan font-size='3' dy='0.8'>x|0</tspan></text>
<path d="M489.7,222.3L490.5,218.5L491.2,214.3L492.0,209.4L492.7,204.0L493.5,199.5L494.3,196.2L495.0,193.7L495.8,192.0L496.5,190.8L497.3,189.8L498.1,188.9L498.8,188.2L499.6,187.5L500.3,186.9L501.1,186.5L501.9,186.2L502.6,186.0L503.4,186.0L504.1,186.1L504.9,186.3L505.7,186.5L506.4,186.9L507.2,187.3L507.9,187.8L508.7,188.3L509.5,188.8L510.2,189.2L511.0,189.7L511.7,190.1L512.5,190.4L513.3,190.7L514.0,190.9L514.8,191.1L515.5,191.2L516.3,191.3L517.1,191.3L517.8,191.3L518.6,191.3L519.3,191.3L520.1,191.3L520.9,191.2L521.6,191.2L522.4,191.1L523.1,191.1L523.9,191.0L524.7,191.0L525.4,191.0L526.2,190.9L526.9,190.9L527.7,190.9L528.5,191.0L529.2,191.0L530.0,191.1L530.7,191.2L531.5,191.3L532.3,191.5L533.0,191.7L533.8,191.9L534.5,192.1L535.3,192.4L536.0,192.6L536.8,192.9L537.6,193.3L538.3,193.6L539.1,194.0L539.8,194.4L540.6,194.8L541.4,195.3L542.1,195.8L542.9,196.3L543.6,196.8L544.4,197.3L545.2,197.9L545.9,198.5L546.7,199.1L547.4,199.7L548.2,200.4L549.0,201.1L549.7,201.8L550.5,202.5L551.2,203.2L552.0,203.9L552.8,204.6L553.5,205.4L554.3,206.1L555.0,206.8L555.8,207.5L556.6,208.2L557.3,208.9L558.1,209.5L558.8,210.2L559.6,210.8L560.4,211.3L561.1,211.9L561.9,212.3L562.6,212.7L563.4,213.1L564.2,213.3L564.9,213.5L565.7,213.5L566.4,213.4L567.2,213.3L568.0,213.0L568.7,212.6L569.5,212.0L570.2,211.4L571.0,210.7L571.8,209.8L572.5,208.8L573.3,207.8L574.0,206.6L574.8,205.4L575.6,204.1L576.3,202.8L577.1,201.5L577.8,200.2L578.6,199.0L579.4,197.7L580.1,196.5L580.9,195.4L581.6,194.4L582.4,193.4L583.2,192.5L583.9,191.7L584.7,191.0L585.4,190.4L586.2,190.0L587.0,189.6L587.7,189.3L588.5,189.2L589.2,189.2L590.0,189.4L590.8,189.7L591.5,190.1L592.3,190.8L593.0,191.5L593.8,192.5L594.6,193.6L595.3,195.0L596.1,196.5L596.8,198.2L597.6,200.0L598.4,201.9L599.1,203.8L599.9,205.8L600.6,207.7L601.4,209.6L602.2,211.3L602.9,212.9L603.7,214.4L604.4,215.8L605.2,217.2L606.0,218.6L606.7,219.9L607.5,221.2L608.2,222.5L609.0,223.7L609.8,224.8L610.5,225.8L611.3,226.8L612.0,227.5L612.8,228.1L613.6,228.5L614.3,228.5L615.1,228.1L615.8,227.4L616.6,226.5L617.4,225.5L618.1,224.3L618.9,223.2L619.6,222.0L620.4,220.9L621.2,219.7L621.9,218.5L622.7,217.4L623.4,216.2L624.2,215.2L625.0,214.1L625.7,213.2L626.5,212.2L627.2,211.4L628.0,210.6L628.7,209.9L629.5,209.3L630.3,208.7L631.0,208.2L631.8,207.8L632.5,207.5L633.3,207.3L634.1,207.2L634.8,207.1L635.6,207.2L636.3,207.4L637.1,207.7L637.9,208.0L638.6,208.5L639.4,209.0L640.1,209.7L640.9,210.4L641.7,211.2L642.4,212.1L643.2,213.0L643.9,214.0L644.7,215.1L645.5,216.2L646.2,217.4L647.0,218.8L647.7,220.3L648.5,221.9L649.3,223.7L650.0,225.6L650.8,227.8L651.5,230.1L652.3,232.6L653.1,235.2L653.8,237.8L654.6,240.4L655.3,242.9L656.1,245.3L656.9,247.5L657.6,249.6L658.4,251.4L659.1,253.1L659.9,254.5L660.7,255.7L661.4,256.7L662.2,257.4L662.9,257.9L663.7,258.2L664.5,258.2L665.2,257.9L666.0,257.4L666.7,256.5L667.5,255.2L668.3,253.6L669.0,251.5L669.8,249.0L670.5,246.3L671.3,243.5" fill="none" stroke="#ff0000" stroke-width="1.1" stroke-linejoin="round"/>
<path d="M489.7,179.8L490.5,181.4L491.2,182.9L492.0,184.4L492.7,185.9L493.5,187.3L494.3,188.6L495.0,189.8L495.8,190.8L496.5,191.8L497.3,192.6L498.0,193.3L498.8,193.9L499.6,194.5L500.3,194.9L501.1,195.3L501.8,195.7L502.6,196.0L503.4,196.3L504.1,196.5L504.9,196.8L505.6,197.0L506.4,197.3L507.1,197.5L507.9,197.8L508.7,198.0L509.4,198.3L510.2,198.5L510.9,198.8L511.7,199.0L512.5,199.2L513.2,199.4L514.0,199.6L514.7,199.8L515.5,200.0L516.3,200.2L517.0,200.3L517.8,200.4L518.5,200.5L519.3,200.6L520.0,200.6L520.8,200.6L521.6,200.6L522.3,200.6L523.1,200.5L523.8,200.4L524.6,200.2L525.4,200.1L526.1,199.8L526.9,199.6L527.6,199.3L528.4,198.9L529.1,198.5L529.9,198.1L530.7,197.6L531.4,197.1L532.2,196.5L532.9,195.9L533.7,195.2L534.5,194.6L535.2,193.9L536.0,193.1L536.7,192.4L537.5,191.6L538.2,190.9L539.0,190.1L539.8,189.3L540.5,188.5L541.3,187.8L542.0,187.0L542.8,186.3L543.6,185.6L544.3,184.9L545.1,184.2L545.8,183.6L546.6,183.1L547.4,182.6L548.1,182.1L548.9,181.7L549.6,181.4L550.4,181.1L551.1,180.9L551.9,180.7L552.7,180.6L553.4,180.5L554.2,180.5L554.9,180.6L555.7,180.7L556.5,180.8L557.2,181.0L558.0,181.2L558.7,181.4L559.5,181.7L560.2,182.0L561.0,182.3L561.8,182.7L562.5,183.1L563.3,183.4L564.0,183.8L564.8,184.2L565.6,184.6L566.3,185.0L567.1,185.4L567.8,185.9L568.6,186.4L569.4,187.1L570.1,187.8L570.9,188.7L571.6,189.7L572.4,190.7L573.1,191.8L573.9,193.0L574.7,194.2L575.4,195.3L576.2,196.5L576.9,197.6L577.7,198.7L578.5,199.6L579.2,200.5L580.0,201.4L580.7,202.2L581.5,203.0L582.2,203.7L583.0,204.6L583.8,205.4L584.5,206.3L585.3,207.3L586.0,208.3L586.8,209.3L587.6,210.4L588.3,211.5L589.1,212.5L589.8,213.6L590.6,214.6L591.3,215.7L592.1,216.7L592.9,217.6L593.6,218.5L594.4,219.4L595.1,220.3L595.9,221.1L596.7,221.9L597.4,222.7L598.2,223.4L598.9,224.1L599.7,224.8L600.5,225.5L601.2,226.1L602.0,226.7L602.7,227.3L603.5,227.8L604.2,228.2L605.0,228.6L605.8,229.0L606.5,229.2L607.3,229.4L608.0,229.5L608.8,229.5L609.6,229.5L610.3,229.4L611.1,229.2L611.8,228.9L612.6,228.6L613.3,228.3L614.1,227.9L614.9,227.5L615.6,227.0L616.4,226.5L617.1,226.1L617.9,225.6L618.7,225.1L619.4,224.6L620.2,224.2L620.9,223.7L621.7,223.3L622.5,223.0L623.2,222.7L624.0,222.5L624.7,222.3L625.5,222.2L626.2,222.2L627.0,222.3L627.8,222.5L628.5,222.7L629.3,223.1L630.0,223.6L630.8,224.2L631.6,224.9L632.3,225.7L633.1,226.6L633.8,227.6L634.6,228.8L635.3,230.0L636.1,231.3L636.9,232.6L637.6,233.9L638.4,235.2L639.1,236.5L639.9,237.7L640.7,238.8L641.4,239.8L642.2,240.7L642.9,241.5L643.7,242.2L644.4,242.7L645.2,243.1L646.0,243.3L646.7,243.3L647.5,243.2L648.2,243.0L649.0,242.5L649.8,241.8L650.5,240.9L651.3,239.7L652.0,238.3L652.8,236.6L653.6,234.7L654.3,232.4L655.1,230.0L655.8,227.5L656.6,224.9L657.3,222.5L658.1,220.2L658.9,218.2L659.6,216.4L660.4,214.8L661.1,213.4L661.9,212.1L662.7,211.0L663.4,210.0L664.2,209.1L664.9,208.3L665.7,207.8L666.4,207.6L667.2,207.7L668.0,208.2L668.7,209.2L669.5,210.6L670.2,212.6L671.0,215.0" fill="none" stroke="#00ff00" stroke-width="1.1" stroke-linejoin="round"/>
<path d="M489.7,216.5L490.5,217.1L491.2,217.8L492.0,218.4L492.7,219.0L493.5,219.5L494.3,220.0L495.0,220.5L495.8,220.9L496.5,221.3L497.3,221.6L498.1,221.8L498.8,222.0L499.6,222.2L500.3,222.3L501.1,222.3L501.9,222.3L502.6,222.2L503.4,222.1L504.1,222.0L504.9,221.8L505.7,221.6L506.4,221.3L507.2,221.0L507.9,220.6L508.7,220.2L509.5,219.8L510.2,219.4L511.0,219.0L511.7,218.5L512.5,217.9L513.3,217.4L514.0,216.7L514.8,216.0L515.5,215.3L516.3,214.4L517.1,213.5L517.8,212.4L518.6,211.3L519.3,210.0L520.1,208.7L520.9,207.3L521.6,206.1L522.4,204.9L523.1,203.9L523.9,203.1L524.7,202.5L525.4,202.0L526.2,201.6L526.9,201.4L527.7,201.3L528.5,201.3L529.2,201.5L530.0,201.7L530.7,202.1L531.5,202.5L532.3,203.0L533.0,203.6L533.8,204.3L534.5,205.1L535.3,205.9L536.0,206.7L536.8,207.6L537.6,208.6L538.3,209.6L539.1,210.6L539.8,211.7L540.6,212.7L541.4,213.9L542.1,215.0L542.9,216.1L543.6,217.3L544.4,218.5L545.2,219.6L545.9,220.8L546.7,221.9L547.4,222.9L548.2,224.0L549.0,225.0L549.7,225.9L550.5,226.8L551.2,227.6L552.0,228.3L552.8,228.9L553.5,229.5L554.3,230.0L555.0,230.3L555.8,230.6L556.6,230.8L557.3,230.9L558.1,231.0L558.8,231.0L559.6,231.0L560.4,230.9L561.1,230.8L561.9,230.6L562.6,230.4L563.4,230.2L564.2,229.9L564.9,229.6L565.7,229.3L566.4,229.0L567.2,228.6L568.0,228.3L568.7,227.9L569.5,227.5L570.2,227.0L571.0,226.6L571.8,226.1L572.5,225.7L573.3,225.2L574.0,224.7L574.8,224.2L575.6,223.6L576.3,223.1L577.1,222.6L577.8,222.1L578.6,221.5L579.4,221.0L580.1,220.5L580.9,220.0L581.6,219.5L582.4,219.1L583.2,218.6L583.9,218.2L584.7,217.8L585.4,217.4L586.2,217.0L587.0,216.6L587.7,216.3L588.5,216.0L589.2,215.8L590.0,215.5L590.8,215.3L591.5,215.1L592.3,214.9L593.0,214.8L593.8,214.7L594.6,214.6L595.3,214.6L596.1,214.6L596.8,214.6L597.6,214.7L598.4,214.8L599.1,214.9L599.9,215.1L600.6,215.4L601.4,215.7L602.2,216.0L602.9,216.4L603.7,216.8L604.4,217.3L605.2,217.9L606.0,218.5L606.7,219.2L607.5,220.0L608.2,220.9L609.0,221.9L609.8,223.0L610.5,224.2L611.3,225.5L612.0,226.9L612.8,228.4L613.6,229.9L614.3,231.5L615.1,233.1L615.8,234.7L616.6,236.3L617.4,237.8L618.1,239.3L618.9,240.6L619.6,241.9L620.4,243.0L621.2,244.1L621.9,245.0L622.7,245.8L623.4,246.5L624.2,247.0L625.0,247.4L625.7,247.6L626.5,247.6L627.2,247.4L628.0,247.1L628.7,246.5L629.5,245.7L630.3,244.7L631.0,243.4L631.8,241.8L632.5,239.9L633.3,237.7L634.1,235.2L634.8,232.7L635.6,230.0L636.3,227.5L637.1,225.0L637.9,222.7L638.6,220.4L639.4,218.0L640.1,215.3L640.9,212.5L641.7,209.6L642.4,206.7L643.2,203.9L643.9,201.3L644.7,199.0L645.5,197.0L646.2,195.3L647.0,193.9L647.7,192.8L648.5,192.0L649.3,191.5L650.0,191.3L650.8,191.4L651.5,191.8L652.3,192.5L653.1,193.4L653.8,194.5L654.6,195.7L655.3,197.0L656.1,198.3L656.9,199.7L657.6,201.0L658.4,202.4L659.1,203.7L659.9,205.0L660.7,206.3L661.4,207.5L662.2,208.8L662.9,209.9L663.7,211.0L664.5,211.9L665.2,212.6L666.0,213.1L666.7,213.1L667.5,212.7L668.3,211.6L669.0,209.8L669.8,207.1L670.5,203.4L671.3,199.2" fill="none" stroke="#0000ff" stroke-width="1.1" stroke-linejoin="round"/>
<path d="M489.7,230.2L490.5,230.7L491.2,231.2L492.0,231.7L492.7,232.2L493.5,232.6L494.3,233.0L495.0,233.2L495.8,233.4L496.5,233.5L497.3,233.6L498.0,233.5L498.8,233.3L499.6,233.1L500.3,232.8L501.1,232.5L501.8,232.1L502.6,231.7L503.4,231.3L504.1,230.9L504.9,230.4L505.6,230.0L506.4,229.6L507.1,229.2L507.9,228.8L508.7,228.5L509.4,228.1L510.2,227.8L510.9,227.5L511.7,227.2L512.5,226.9L513.2,226.6L514.0,226.4L514.7,226.2L515.5,226.0L516.3,225.8L517.0,225.6L517.8,225.5L518.5,225.4L519.3,225.3L520.0,225.2L520.8,225.1L521.6,225.0L522.3,225.0L523.1,224.9L523.8,224.8L524.6,224.8L525.4,224.7L526.1,224.7L526.9,224.6L527.6,224.6L528.4,224.5L529.1,224.4L529.9,224.4L530.7,224.3L531.4,224.2L532.2,224.1L532.9,224.0L533.7,223.8L534.5,223.7L535.2,223.6L536.0,223.4L536.7,223.3L537.5,223.1L538.2,223.0L539.0,222.8L539.8,222.7L540.5,222.6L541.3,222.4L542.0,222.3L542.8,222.2L543.6,222.1L544.3,222.0L545.1,221.9L545.8,221.9L546.6,221.8L547.4,221.8L548.1,221.8L548.9,221.8L549.6,221.8L550.4,221.8L551.1,221.9L551.9,222.0L552.7,222.1L553.4,222.2L554.2,222.3L554.9,222.5L555.7,222.7L556.5,222.8L557.2,223.0L558.0,223.2L558.7,223.4L559.5,223.6L560.2,223.9L561.0,224.1L561.8,224.3L562.5,224.5L563.3,224.8L564.0,225.0L564.8,225.2L565.6,225.4L566.3,225.7L567.1,225.9L567.8,226.1L568.6,226.3L569.4,226.5L570.1,226.6L570.9,226.8L571.6,226.9L572.4,227.1L573.1,227.2L573.9,227.3L574.7,227.4L575.4,227.5L576.2,227.6L576.9,227.6L577.7,227.7L578.5,227.8L579.2,227.8L580.0,227.9L580.7,227.9L581.5,227.9L582.2,228.0L583.0,228.0L583.8,228.0L584.5,228.1L585.3,228.1L586.0,228.1L586.8,228.1L587.6,228.2L588.3,228.2L589.1,228.2L589.8,228.2L590.6,228.3L591.3,228.3L592.1,228.3L592.9,228.4L593.6,228.4L594.4,228.5L595.1,228.5L595.9,228.6L596.7,228.7L597.4,228.7L598.2,228.8L598.9,228.9L599.7,228.9L600.5,229.0L601.2,229.1L602.0,229.2L602.7,229.3L603.5,229.3L604.2,229.4L605.0,229.5L605.8,229.6L606.5,229.7L607.3,229.8L608.0,229.9L608.8,230.0L609.6,230.1L610.3,230.2L611.1,230.3L611.8,230.4L612.6,230.5L613.3,230.6L614.1,230.7L614.9,230.8L615.6,230.9L616.4,231.0L617.1,231.1L617.9,231.2L618.7,231.3L619.4,231.4L620.2,231.4L620.9,231.5L621.7,231.6L622.5,231.7L623.2,231.8L624.0,231.8L624.7,231.9L625.5,231.9L626.2,232.0L627.0,232.0L627.8,232.1L628.5,232.1L629.3,232.2L630.0,232.2L630.8,232.2L631.6,232.2L632.3,232.2L633.1,232.2L633.8,232.2L634.6,232.2L635.3,232.1L636.1,232.1L636.9,232.1L637.6,232.0L638.4,231.9L639.1,231.9L639.9,231.8L640.7,231.7L641.4,231.6L642.2,231.5L642.9,231.4L643.7,231.3L644.4,231.2L645.2,231.1L646.0,230.9L646.7,230.8L647.5,230.6L648.2,230.5L649.0,230.3L649.8,230.2L650.5,230.0L651.3,229.9L652.0,229.7L652.8,229.6L653.6,229.4L654.3,229.3L655.1,229.2L655.8,229.0L656.6,228.9L657.3,228.8L658.1,228.7L658.9,228.6L659.6,228.5L660.4,228.4L661.1,228.3L661.9,228.3L662.7,228.2L663.4,228.1L664.2,228.1L664.9,228.0L665.7,228.0L666.4,228.0L667.2,227.9L668.0,227.9L668.7,227.9L669.5,227.9L670.2,227.8L671.0,227.8" fill="none" stroke="#a020f0" stroke-width="1.1" stroke-linejoin="round"/>
<line x1="482.7" y1="227.4" x2="678.5" y2="227.4" stroke="#000" stroke-opacity="0.35" stroke-width="0.9"/>
<line x1="482.7" y1="227.4" x2="678.5" y2="227.4" stroke="#000" stroke-opacity="0.8" stroke-width="0.9" stroke-dasharray="1.9,0.9"/>
<rect x="482.7" y="170.5" width="195.80" height="91.60" fill="none" stroke="#000" stroke-width="1.1"/>
<line x1="489.60" y1="262.1" x2="489.60" y2="263.90000000000003" stroke="#000" stroke-width="0.8"/>
<text x="489.60" y="269.00" font-size="3" text-anchor="middle" stroke="#000" stroke-width="0.12" font-family="Liberation Sans, Arial, sans-serif">0</text>
<line x1="519.80" y1="262.1" x2="519.80" y2="263.90000000000003" stroke="#000" stroke-width="0.8"/>
<text x="519.80" y="269.00" font-size="3" text-anchor="middle" stroke="#000" stroke-width="0.12" font-family="Liberation Sans, Arial, sans-serif">10</text>
<line x1="550.00" y1="262.1" x2="550.00" y2="263.90000000000003" stroke="#000" stroke-width="0.8"/>
<text x="550.00" y="269.00" font-size="3" text-anchor="middle" stroke="#000" stroke-width="0.12" font-family="Liberation Sans, Arial, sans-serif">20</text>
<line x1="580.20" y1="262.1" x2="580.20" y2="263.90000000000003" stroke="#000" stroke-width="0.8"/>
<text x="580.20" y="269.00" font-size="3" text-anchor="middle" stroke="#000" stroke-width="0.12" font-family="Liberation Sans, Arial, sans-serif">30</text>
<line x1="610.40" y1="262.1" x2="610.40" y2="263.90000000000003" stroke="#000" stroke-width="0.8"/>
<text x="610.40" y="269.00" font-size="3" text-anchor="middle" stroke="#000" stroke-width="0.12" font-family="Liberation Sans, Arial, sans-serif">40</text>
<line x1="640.60" y1="262.1" x2="640.60" y2="263.90000000000003" stroke="#000" stroke-width="0.8"/>
<text x="640.60" y="269.00" font-size="3" text-anchor="middle" stroke="#000" stroke-width="0.12" font-family="Liberation Sans, Arial, sans-serif">50</text>
<line x1="670.80" y1="262.1" x2="670.80" y2="263.90000000000003" stroke="#000" stroke-width="0.8"/>
<text x="670.80" y="269.00" font-size="3" text-anchor="middle" stroke="#000" stroke-width="0.12" font-family="Liberation Sans, Arial, sans-serif">60</text>
<line x1="480.9" y1="174.2" x2="482.7" y2="174.2" stroke="#000" stroke-width="0.8"/>
<text transform="translate(478.50,174.2) rotate(-90)" font-size="3" text-anchor="middle" stroke="#000" stroke-width="0.12" font-family="Liberation Sans, Arial, sans-serif">0.6</text>
<line x1="480.9" y1="191.8" x2="482.7" y2="191.8" stroke="#000" stroke-width="0.8"/>
<text transform="translate(478.50,191.8) rotate(-90)" font-size="3" text-anchor="middle" stroke="#000" stroke-width="0.12" font-family="Liberation Sans, Arial, sans-serif">0.4</text>
<line x1="480.9" y1="209.7" x2="482.7" y2="209.7" stroke="#000" stroke-width="0.8"/>
<text transform="translate(478.50,209.7) rotate(-90)" font-size="3" text-anchor="middle" stroke="#000" stroke-width="0.12" font-family="Liberation Sans, Arial, sans-serif">0.2</text>
<line x1="480.9" y1="227.4" x2="482.7" y2="227.4" stroke="#000" stroke-width="0.8"/>
<text transform="translate(478.50,227.4) rotate(-90)" font-size="3" text-anchor="middle" stroke="#000" stroke-width="0.12" font-family="Liberation Sans, Arial, sans-serif">0.0</text>
<line x1="480.9" y1="245.3" x2="482.7" y2="245.3" stroke="#000" stroke-width="0.8"/>
<text transform="translate(478.50,245.3) rotate(-90)" font-size="3" text-anchor="middle" stroke="#000" stroke-width="0.12" font-family="Liberation Sans, Arial, sans-serif">-0.2</text>
<text x="580.60" y="276.50" font-size="3.2" text-anchor="middle" stroke="#000" stroke-width="0.1" font-family="Liberation Sans, Arial, sans-serif">Time (sec.)</text>
<text transform="translate(469.70,216.30) rotate(-90)" font-size="4.2" text-anchor="middle" stroke="#000" stroke-width="0.12" font-family="Liberation Sans, Arial, sans-serif">&#946;<tspan font-size='3' dy='0.8'>x|0</tspan></text>
<text transform="translate(12.2,136.9) scale(1.167,1)" font-size="16.3" font-family="Liberation Serif, Times New Roman, serif" fill="#111">(a) KPH gated parameters</text>
<text transform="translate(249.8,136.9) scale(1.167,1)" font-size="16.3" font-family="Liberation Serif, Times New Roman, serif" fill="#111">(b) HR gated parameters</text>
<text transform="translate(468.0,136.9) scale(1.167,1)" font-size="16.3" font-family="Liberation Serif, Times New Roman, serif" fill="#111">(c) SLOPE gated parameters</text>
<text transform="translate(2.3,306.5) scale(1.167,1)" font-size="16.3" font-family="Liberation Serif, Times New Roman, serif" fill="#111">(d) KPH’s expert parameters</text>
<text transform="translate(242.7,306.5) scale(1.167,1)" font-size="16.3" font-family="Liberation Serif, Times New Roman, serif" fill="#111">(e) HR’s expert parameters</text>
<text transform="translate(468.0,306.5) scale(1.167,1)" font-size="16.3" font-family="Liberation Serif, Times New Roman, serif" fill="#111">(f) SLOPE’s exp. parameters</text>
</svg>
</body></html>
